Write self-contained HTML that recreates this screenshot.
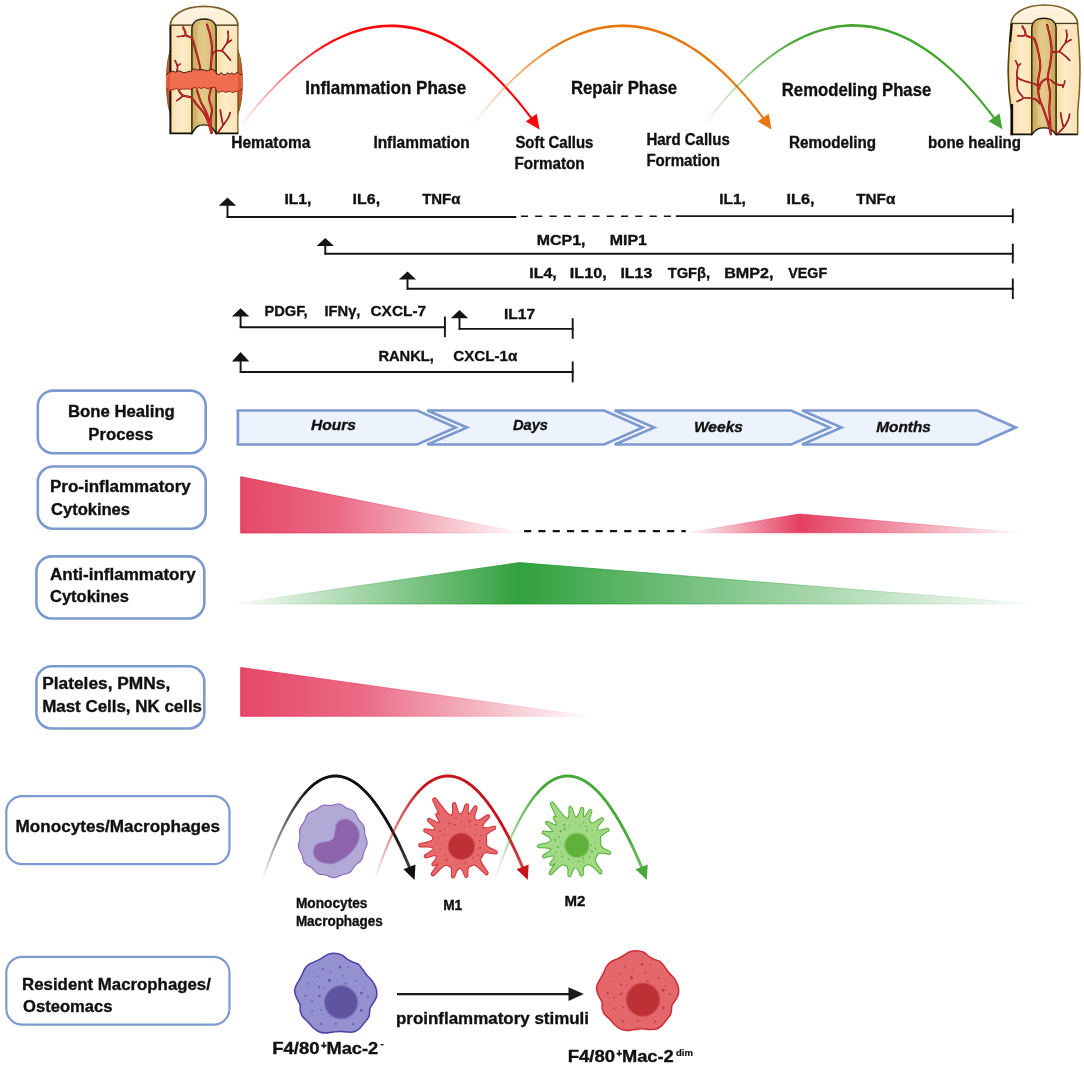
<!DOCTYPE html>
<html><head><meta charset="utf-8"><title>Bone healing</title>
<style>html,body{margin:0;padding:0;background:#fff}svg{display:block}text{font-family:'Liberation Sans',sans-serif;font-weight:bold}</style>
</head><body>
<svg width="1084" height="1066" viewBox="0 0 1084 1066">
<defs>
<linearGradient id="g1" gradientUnits="userSpaceOnUse" x1="240.7" x2="523.8" y1="0" y2="0"><stop offset="0" stop-color="#e12a50" stop-opacity="0.86"/><stop offset="0.34" stop-color="#e12a50" stop-opacity="0.70"/><stop offset="1" stop-color="#e12a50" stop-opacity="0"/></linearGradient>
<linearGradient id="g1s" gradientUnits="userSpaceOnUse" x1="240.7" x2="523.8" y1="0" y2="0"><stop offset="0" stop-color="#e12a50"/><stop offset="1" stop-color="#e12a50" stop-opacity="0"/></linearGradient>
<linearGradient id="g2" gradientUnits="userSpaceOnUse" x1="687" x2="1022" y1="0" y2="0"><stop offset="0" stop-color="#e12a50" stop-opacity="0"/><stop offset="0.336" stop-color="#e12a50" stop-opacity="0.9"/><stop offset="1" stop-color="#e12a50" stop-opacity="0"/></linearGradient>
<linearGradient id="g2s" gradientUnits="userSpaceOnUse" x1="687" x2="1022" y1="0" y2="0"><stop offset="0" stop-color="#e12a50" stop-opacity="0"/><stop offset="0.336" stop-color="#e12a50"/><stop offset="1" stop-color="#e12a50" stop-opacity="0"/></linearGradient>
<linearGradient id="g3" gradientUnits="userSpaceOnUse" x1="233" x2="1037" y1="0" y2="0"><stop offset="0" stop-color="#1f992e" stop-opacity="0"/><stop offset="0.356" stop-color="#1f992e" stop-opacity="0.92"/><stop offset="1" stop-color="#1f992e" stop-opacity="0"/></linearGradient>
<linearGradient id="g3s" gradientUnits="userSpaceOnUse" x1="233" x2="1037" y1="0" y2="0"><stop offset="0" stop-color="#1f992e" stop-opacity="0"/><stop offset="0.356" stop-color="#1f992e"/><stop offset="1" stop-color="#1f992e" stop-opacity="0"/></linearGradient>
<linearGradient id="g4" gradientUnits="userSpaceOnUse" x1="240.7" x2="592" y1="0" y2="0"><stop offset="0" stop-color="#e12a50" stop-opacity="0.86"/><stop offset="0.34" stop-color="#e12a50" stop-opacity="0.70"/><stop offset="1" stop-color="#e12a50" stop-opacity="0"/></linearGradient>
<linearGradient id="g4s" gradientUnits="userSpaceOnUse" x1="240.7" x2="592" y1="0" y2="0"><stop offset="0" stop-color="#e12a50"/><stop offset="1" stop-color="#e12a50" stop-opacity="0"/></linearGradient>
<linearGradient id="ag1" gradientUnits="userSpaceOnUse" x1="242.2" y1="124.4" x2="333.0" y2="41.0"><stop offset="0" stop-color="#fb0509" stop-opacity="0.06"/><stop offset="0.3" stop-color="#fb0509" stop-opacity="0.38"/><stop offset="1" stop-color="#fb0509"/></linearGradient>
<linearGradient id="ag2" gradientUnits="userSpaceOnUse" x1="473.2" y1="124.4" x2="564.5" y2="41.0"><stop offset="0" stop-color="#e6780f" stop-opacity="0.06"/><stop offset="0.3" stop-color="#e6780f" stop-opacity="0.38"/><stop offset="1" stop-color="#e6780f"/></linearGradient>
<linearGradient id="ag3" gradientUnits="userSpaceOnUse" x1="705.4" y1="123.2" x2="796.1" y2="40.4"><stop offset="0" stop-color="#45a533" stop-opacity="0.06"/><stop offset="0.3" stop-color="#45a533" stop-opacity="0.38"/><stop offset="1" stop-color="#45a533"/></linearGradient>
<linearGradient id="cortL" x1="0" x2="1" y1="0" y2="0"><stop offset="0" stop-color="#f9dca6"/><stop offset="0.45" stop-color="#fdecc9"/><stop offset="1" stop-color="#fbe2b2"/></linearGradient>
<linearGradient id="marrow" x1="0" x2="1" y1="0" y2="0"><stop offset="0" stop-color="#c9a757"/><stop offset="0.45" stop-color="#e0c581"/><stop offset="1" stop-color="#c7a556"/></linearGradient>
<linearGradient id="callus" x1="0" x2="0" y1="0" y2="1"><stop offset="0" stop-color="#b08a30"/><stop offset="0.3" stop-color="#de4f35"/><stop offset="0.7" stop-color="#de4f35"/><stop offset="1" stop-color="#9a5a22"/></linearGradient>
<linearGradient id="ag4" gradientUnits="userSpaceOnUse" x1="263.6" y1="876.0" x2="310.7" y2="787.1"><stop offset="0" stop-color="#111111" stop-opacity="0.06"/><stop offset="0.3" stop-color="#111111" stop-opacity="0.38"/><stop offset="1" stop-color="#111111"/></linearGradient>
<linearGradient id="ag5" gradientUnits="userSpaceOnUse" x1="375.9" y1="876.0" x2="423.1" y2="787.1"><stop offset="0" stop-color="#c4161c" stop-opacity="0.06"/><stop offset="0.3" stop-color="#c4161c" stop-opacity="0.38"/><stop offset="1" stop-color="#c4161c"/></linearGradient>
<linearGradient id="ag6" gradientUnits="userSpaceOnUse" x1="496.0" y1="876.0" x2="543.1" y2="787.1"><stop offset="0" stop-color="#49a83a" stop-opacity="0.06"/><stop offset="0.3" stop-color="#49a83a" stop-opacity="0.38"/><stop offset="1" stop-color="#49a83a"/></linearGradient>
</defs>
<rect width="1084" height="1066" fill="#fff"/>
<text x="305.29" y="93.9" font-size="18.5" textLength="161.01" lengthAdjust="spacingAndGlyphs" fill="#111" stroke="#111" stroke-width="0.35" >Inflammation Phase</text>
<text x="570.99" y="93.9" font-size="18.5" textLength="106.01" lengthAdjust="spacingAndGlyphs" fill="#111" stroke="#111" stroke-width="0.35" >Repair Phase</text>
<text x="781.79" y="96.3" font-size="18.5" textLength="149.42" lengthAdjust="spacingAndGlyphs" fill="#111" stroke="#111" stroke-width="0.35" >Remodeling Phase</text>
<text x="231.29" y="147.8" font-size="16" textLength="79.01" lengthAdjust="spacingAndGlyphs" fill="#111" stroke="#111" stroke-width="0.35" >Hematoma</text>
<text x="373.38" y="147.8" font-size="16" textLength="96.23" lengthAdjust="spacingAndGlyphs" fill="#111" stroke="#111" stroke-width="0.35" >Inflammation</text>
<text x="515.40" y="147.6" font-size="16" textLength="78.00" lengthAdjust="spacingAndGlyphs" fill="#111" stroke="#111" stroke-width="0.35" >Soft Callus</text>
<text x="514.38" y="169.2" font-size="16" textLength="70.24" lengthAdjust="spacingAndGlyphs" fill="#111" stroke="#111" stroke-width="0.35" >Formaton</text>
<text x="646.38" y="144.6" font-size="16" textLength="83.44" lengthAdjust="spacingAndGlyphs" fill="#111" stroke="#111" stroke-width="0.35" >Hard Callus</text>
<text x="646.38" y="166.2" font-size="16" textLength="73.62" lengthAdjust="spacingAndGlyphs" fill="#111" stroke="#111" stroke-width="0.35" >Formation</text>
<text x="788.98" y="147.8" font-size="16" textLength="87.05" lengthAdjust="spacingAndGlyphs" fill="#111" stroke="#111" stroke-width="0.35" >Remodeling</text>
<text x="927.98" y="147.8" font-size="16" textLength="93.04" lengthAdjust="spacingAndGlyphs" fill="#111" stroke="#111" stroke-width="0.35" >bone healing</text>
<path d="M218.8,205.7 L227.5,197.4 L236.2,205.7 Z" fill="#141414"/>
<path d="M227.5,205.2 V217.6" stroke="#141414" stroke-width="1.9" fill="none"/>
<path d="M226.6,217.0 H516.3" stroke="#141414" stroke-width="1.9" fill="none"/>
<path d="M520.9,216.2 H671.5" stroke="#141414" stroke-width="1.6" fill="none" stroke-dasharray="7.15 7.15"/>
<path d="M675.8,216.1 H1013.6" stroke="#141414" stroke-width="1.9" fill="none"/>
<path d="M1012.8,208.6 V223.2" stroke="#141414" stroke-width="1.9" fill="none"/>
<text x="284.44" y="204.2" font-size="15.5" textLength="26.88" lengthAdjust="spacingAndGlyphs" fill="#111" stroke="#111" stroke-width="0.35" >IL1,</text>
<text x="352.63" y="204.2" font-size="15.5" textLength="27.52" lengthAdjust="spacingAndGlyphs" fill="#111" stroke="#111" stroke-width="0.35" >IL6,</text>
<text x="422.20" y="204.2" font-size="15.5" textLength="38.20" lengthAdjust="spacingAndGlyphs" fill="#111" stroke="#111" stroke-width="0.35" >TNFα</text>
<text x="719.15" y="204.2" font-size="15.5" textLength="26.67" lengthAdjust="spacingAndGlyphs" fill="#111" stroke="#111" stroke-width="0.35" >IL1,</text>
<text x="786.64" y="204.2" font-size="15.5" textLength="27.88" lengthAdjust="spacingAndGlyphs" fill="#111" stroke="#111" stroke-width="0.35" >IL6,</text>
<text x="856.30" y="204.2" font-size="15.5" textLength="39.01" lengthAdjust="spacingAndGlyphs" fill="#111" stroke="#111" stroke-width="0.35" >TNFα</text>
<path d="M316.6,246.0 L325.3,238.0 L334.0,246.0 Z" fill="#141414"/>
<path d="M325.3,245.5 V254.6" stroke="#141414" stroke-width="1.9" fill="none"/>
<path d="M324.5,253.8 H1013.6" stroke="#141414" stroke-width="1.9" fill="none"/>
<path d="M1012.8,243.7 V263.4" stroke="#141414" stroke-width="1.9" fill="none"/>
<text x="536.76" y="244.8" font-size="15.5" textLength="48.67" lengthAdjust="spacingAndGlyphs" fill="#111" stroke="#111" stroke-width="0.35" >MCP1,</text>
<text x="609.77" y="244.8" font-size="15.5" textLength="37.23" lengthAdjust="spacingAndGlyphs" fill="#111" stroke="#111" stroke-width="0.35" >MIP1</text>
<path d="M398.8,279.6 L407.5,271.4 L416.2,279.6 Z" fill="#141414"/>
<path d="M407.5,279.1 V289.6" stroke="#141414" stroke-width="1.9" fill="none"/>
<path d="M406.7,288.8 H1013.6" stroke="#141414" stroke-width="1.9" fill="none"/>
<path d="M1012.8,278.6 V299.0" stroke="#141414" stroke-width="1.9" fill="none"/>
<text x="529.23" y="278.4" font-size="15.5" textLength="27.52" lengthAdjust="spacingAndGlyphs" fill="#111" stroke="#111" stroke-width="0.35" >IL4,</text>
<text x="569.84" y="278.4" font-size="15.5" textLength="36.91" lengthAdjust="spacingAndGlyphs" fill="#111" stroke="#111" stroke-width="0.35" >IL10,</text>
<text x="620.45" y="278.4" font-size="15.5" textLength="31.87" lengthAdjust="spacingAndGlyphs" fill="#111" stroke="#111" stroke-width="0.35" >IL13</text>
<text x="667.70" y="278.4" font-size="15.5" textLength="42.41" lengthAdjust="spacingAndGlyphs" fill="#111" stroke="#111" stroke-width="0.35" >TGFβ,</text>
<text x="724.15" y="278.4" font-size="15.5" textLength="49.30" lengthAdjust="spacingAndGlyphs" fill="#111" stroke="#111" stroke-width="0.35" >BMP2,</text>
<text x="788.30" y="278.4" font-size="15.5" textLength="38.80" lengthAdjust="spacingAndGlyphs" fill="#111" stroke="#111" stroke-width="0.35" >VEGF</text>
<path d="M231.9,316.6 L240.6,308.3 L249.3,316.6 Z" fill="#141414"/>
<path d="M240.6,316.1 V328.0" stroke="#141414" stroke-width="1.9" fill="none"/>
<path d="M239.8,327.2 H445.7" stroke="#141414" stroke-width="1.9" fill="none"/>
<path d="M444.9,316.6 V337.2" stroke="#141414" stroke-width="1.9" fill="none"/>
<text x="264.46" y="315.6" font-size="15.5" textLength="43.06" lengthAdjust="spacingAndGlyphs" fill="#111" stroke="#111" stroke-width="0.35" >PDGF,</text>
<text x="324.54" y="315.6" font-size="15.5" textLength="35.91" lengthAdjust="spacingAndGlyphs" fill="#111" stroke="#111" stroke-width="0.35" >IFNγ,</text>
<text x="370.50" y="315.6" font-size="15.5" textLength="55.61" lengthAdjust="spacingAndGlyphs" fill="#111" stroke="#111" stroke-width="0.35" >CXCL-7</text>
<path d="M450.8,318.2 L459.5,310.0 L468.2,318.2 Z" fill="#141414"/>
<path d="M459.5,317.7 V329.7" stroke="#141414" stroke-width="1.9" fill="none"/>
<path d="M458.7,328.9 H573.5" stroke="#141414" stroke-width="1.9" fill="none"/>
<path d="M572.7,318.2 V338.8" stroke="#141414" stroke-width="1.9" fill="none"/>
<text x="503.95" y="318.9" font-size="15.5" textLength="31.08" lengthAdjust="spacingAndGlyphs" fill="#111" stroke="#111" stroke-width="0.35" >IL17</text>
<path d="M231.9,361.4 L240.6,352.1 L249.3,361.4 Z" fill="#141414"/>
<path d="M240.6,360.9 V372.8" stroke="#141414" stroke-width="1.9" fill="none"/>
<path d="M239.8,372.0 H573.5" stroke="#141414" stroke-width="1.9" fill="none"/>
<path d="M572.7,361.4 V382.3" stroke="#141414" stroke-width="1.9" fill="none"/>
<text x="378.38" y="360.8" font-size="15.5" textLength="55.43" lengthAdjust="spacingAndGlyphs" fill="#111" stroke="#111" stroke-width="0.35" >RANKL,</text>
<text x="453.20" y="360.8" font-size="15.5" textLength="64.20" lengthAdjust="spacingAndGlyphs" fill="#111" stroke="#111" stroke-width="0.35" >CXCL-1α</text>
<rect x="37.8" y="390.6" width="167.9" height="62.7" rx="15.5" fill="#fff" stroke="#7c99d0" stroke-width="2.6"/>
<text x="67.99" y="417.2" font-size="16" textLength="106.82" lengthAdjust="spacingAndGlyphs" fill="#111" stroke="#111" stroke-width="0.35" >Bone Healing</text>
<text x="88.39" y="439.7" font-size="16" textLength="64.81" lengthAdjust="spacingAndGlyphs" fill="#111" stroke="#111" stroke-width="0.35" >Process</text>
<rect x="37.8" y="466.5" width="167.9" height="62.3" rx="15.5" fill="#fff" stroke="#7c99d0" stroke-width="2.6"/>
<text x="49.99" y="492.0" font-size="16" textLength="140.81" lengthAdjust="spacingAndGlyphs" fill="#111" stroke="#111" stroke-width="0.35" >Pro-inflammatory</text>
<text x="51.00" y="514.6" font-size="16" textLength="79.00" lengthAdjust="spacingAndGlyphs" fill="#111" stroke="#111" stroke-width="0.35" >Cytokines</text>
<rect x="36.4" y="556.4" width="167.9" height="62.1" rx="15.5" fill="#fff" stroke="#7c99d0" stroke-width="2.6"/>
<text x="50.00" y="580.1" font-size="16" textLength="145.60" lengthAdjust="spacingAndGlyphs" fill="#111" stroke="#111" stroke-width="0.35" >Anti-inflammatory</text>
<text x="50.00" y="602.4" font-size="16" textLength="78.80" lengthAdjust="spacingAndGlyphs" fill="#111" stroke="#111" stroke-width="0.35" >Cytokines</text>
<rect x="36.4" y="666.3" width="167.9" height="62.2" rx="15.5" fill="#fff" stroke="#7c99d0" stroke-width="2.6"/>
<text x="42.18" y="689.2" font-size="16" textLength="128.03" lengthAdjust="spacingAndGlyphs" fill="#111" stroke="#111" stroke-width="0.35" >Plateles, PMNs,</text>
<text x="42.19" y="711.8" font-size="16" textLength="159.82" lengthAdjust="spacingAndGlyphs" fill="#111" stroke="#111" stroke-width="0.35" >Mast Cells, NK cells</text>
<rect x="6.3" y="796.1" width="223.2" height="68.1" rx="16" fill="#fff" stroke="#7c99d0" stroke-width="2.2"/>
<text x="15.59" y="832.4" font-size="17" textLength="204.41" lengthAdjust="spacingAndGlyphs" fill="#111" stroke="#111" stroke-width="0.35" >Monocytes/Macrophages</text>
<rect x="6.3" y="956.8" width="223.2" height="67.9" rx="16" fill="#fff" stroke="#7c99d0" stroke-width="2.2"/>
<text x="22.10" y="990.3" font-size="16.5" textLength="188.80" lengthAdjust="spacingAndGlyphs" fill="#111" stroke="#111" stroke-width="0.35" >Resident Macrophages/</text>
<text x="23.10" y="1012.2" font-size="16.5" textLength="89.40" lengthAdjust="spacingAndGlyphs" fill="#111" stroke="#111" stroke-width="0.35" >Osteomacs</text>
<path d="M237.9,410.5 H417.2 L455.8,427.5 L417.2,444.5 H237.9 Z" fill="#edf3fc" stroke="#7c99d0" stroke-width="2.7" stroke-linejoin="miter"/>
<path d="M427.2,410.5 H604.2 L642.8,427.5 L604.2,444.5 H427.2 L467.0,427.5 Z" fill="#edf3fc" stroke="#7c99d0" stroke-width="2.7" stroke-linejoin="miter"/>
<path d="M614.6,410.5 H791.2 L829.8,427.5 L791.2,444.5 H614.6 L654.2,427.5 Z" fill="#edf3fc" stroke="#7c99d0" stroke-width="2.7" stroke-linejoin="miter"/>
<path d="M802.0,410.5 H977.4 L1015.8,427.5 L977.4,444.5 H802.0 L841.5,427.5 Z" fill="#edf3fc" stroke="#7c99d0" stroke-width="2.7" stroke-linejoin="miter"/>
<text x="311.00" y="429.7" font-size="15.5" textLength="45.01" lengthAdjust="spacingAndGlyphs" fill="#111" stroke="#111" stroke-width="0.35" font-style="italic">Hours</text>
<text x="513.00" y="429.9" font-size="15.5" textLength="35.00" lengthAdjust="spacingAndGlyphs" fill="#111" stroke="#111" stroke-width="0.35" font-style="italic">Days</text>
<text x="693.98" y="431.5" font-size="15.5" textLength="49.02" lengthAdjust="spacingAndGlyphs" fill="#111" stroke="#111" stroke-width="0.35" font-style="italic">Weeks</text>
<text x="876.30" y="431.8" font-size="15.5" textLength="54.60" lengthAdjust="spacingAndGlyphs" fill="#111" stroke="#111" stroke-width="0.35" font-style="italic">Months</text>
<path d="M240.7,476.7 L523.8,533 H240.7 Z" fill="url(#g1)" stroke="url(#g1s)" stroke-width="0.8"/>
<path d="M524.1,531.1 H685.8" stroke="#141414" stroke-width="2.3" fill="none" stroke-dasharray="7.15 7.15"/>
<path d="M687,532.8 L799.5,514 L1022,532.8 Z" fill="url(#g2)" stroke="url(#g2s)" stroke-width="0.7"/>
<path d="M233,604 L519.2,562.6 L1037,604 Z" fill="url(#g3)" stroke="url(#g3s)" stroke-width="0.8"/>
<path d="M240.7,667.5 L592,716.3 H240.7 Z" fill="url(#g4)" stroke="url(#g4s)" stroke-width="0.8"/>
<path d="M242.72,124.79 L247.70,118.41 L252.67,112.25 L257.64,106.30 L262.60,100.57 L267.56,95.05 L272.52,89.75 L277.46,84.67 L282.41,79.80 L287.34,75.15 L292.28,70.71 L297.20,66.49 L302.12,62.49 L307.04,58.70 L311.94,55.13 L316.84,51.77 L321.74,48.63 L326.63,45.70 L331.51,42.99 L336.38,40.50 L341.25,38.22 L346.10,36.15 L350.95,34.30 L355.80,32.67 L360.63,31.24 L365.46,30.04 L370.28,29.04 L375.10,28.26 L379.90,27.69 L384.70,27.34 L389.50,27.19 L394.28,27.24 L399.07,27.49 L403.85,27.96 L408.63,28.63 L413.40,29.52 L418.18,30.61 L422.95,31.92 L427.73,33.44 L432.50,35.17 L437.27,37.12 L442.04,39.29 L446.81,41.67 L451.58,44.26 L456.35,47.07 L461.12,50.09 L465.88,53.33 L470.65,56.78 L475.41,60.45 L480.17,64.33 L484.93,68.43 L489.69,72.75 L494.44,77.28 L499.20,82.02 L503.95,86.99 L508.69,92.17 L513.44,97.56 L518.18,103.17 L522.92,109.00 L527.66,115.04 L532.39,121.29 L534.04,120.07 L529.31,113.77 L524.57,107.69 L519.82,101.82 L515.07,96.16 L510.32,90.71 L505.56,85.48 L500.79,80.47 L496.02,75.67 L491.25,71.08 L486.46,66.70 L481.68,62.55 L476.88,58.60 L472.08,54.87 L467.27,51.35 L462.46,48.05 L457.64,44.97 L452.82,42.09 L447.98,39.44 L443.14,36.99 L438.30,34.77 L433.44,32.76 L428.58,30.96 L423.71,29.38 L418.84,28.02 L413.96,26.87 L409.07,25.95 L404.18,25.23 L399.27,24.75 L394.37,24.49 L389.46,24.44 L384.55,24.64 L379.64,25.05 L374.72,25.68 L369.81,26.53 L364.89,27.59 L359.98,28.87 L355.06,30.37 L350.14,32.08 L345.23,34.01 L340.31,36.15 L335.39,38.51 L330.48,41.08 L325.56,43.87 L320.64,46.87 L315.72,50.09 L310.80,53.52 L305.87,57.16 L300.95,61.02 L296.02,65.09 L291.09,69.38 L286.16,73.88 L281.23,78.59 L276.30,83.52 L271.36,88.66 L266.42,94.02 L261.48,99.59 L256.54,105.37 L251.59,111.37 L246.64,117.58 L241.68,124.01 Z" fill="url(#ag1)"/>
<path d="M539.60,129.50 L525.71,121.57 L536.73,113.77 Z" fill="#fb0509"/>
<path d="M473.72,124.80 L478.73,118.42 L483.73,112.25 L488.73,106.30 L493.73,100.57 L498.72,95.06 L503.70,89.76 L508.68,84.67 L513.65,79.80 L518.61,75.15 L523.57,70.71 L528.53,66.49 L533.47,62.49 L538.41,58.70 L543.35,55.13 L548.27,51.77 L553.19,48.63 L558.10,45.70 L563.01,42.99 L567.90,40.50 L572.79,38.22 L577.67,36.15 L582.54,34.30 L587.41,32.67 L592.26,31.24 L597.11,30.04 L601.95,29.04 L606.78,28.26 L611.61,27.69 L616.42,27.34 L621.23,27.19 L626.04,27.24 L630.84,27.49 L635.63,27.96 L640.43,28.63 L645.22,29.52 L650.01,30.61 L654.80,31.92 L659.58,33.44 L664.37,35.18 L669.15,37.12 L673.93,39.29 L678.72,41.67 L683.49,44.26 L688.27,47.07 L693.05,50.09 L697.82,53.33 L702.59,56.78 L707.36,60.45 L712.13,64.33 L716.90,68.43 L721.66,72.75 L726.42,77.28 L731.18,82.03 L735.93,86.99 L740.68,92.17 L745.43,97.56 L750.18,103.17 L754.92,109.00 L759.66,115.04 L764.39,121.29 L766.04,120.07 L761.30,113.77 L756.56,107.69 L751.82,101.81 L747.06,96.16 L742.31,90.71 L737.54,85.48 L732.77,80.47 L728.00,75.67 L723.22,71.08 L718.43,66.70 L713.63,62.54 L708.83,58.60 L704.03,54.87 L699.21,51.35 L694.39,48.05 L689.56,44.96 L684.72,42.09 L679.88,39.44 L675.03,36.99 L670.17,34.77 L665.31,32.76 L660.43,30.96 L655.55,29.38 L650.67,28.02 L645.77,26.87 L640.87,25.95 L635.96,25.23 L631.05,24.75 L626.12,24.49 L621.20,24.44 L616.27,24.64 L611.34,25.05 L606.41,25.68 L601.48,26.53 L596.54,27.59 L591.61,28.87 L586.67,30.37 L581.73,32.08 L576.80,34.01 L571.86,36.15 L566.92,38.51 L561.98,41.08 L557.04,43.87 L552.09,46.87 L547.15,50.09 L542.20,53.52 L537.25,57.16 L532.30,61.02 L527.35,65.09 L522.40,69.38 L517.44,73.88 L512.48,78.59 L507.52,83.52 L502.55,88.66 L497.58,94.02 L492.61,99.58 L487.63,105.37 L482.65,111.37 L477.67,117.58 L472.68,124.00 Z" fill="url(#ag2)"/>
<path d="M771.60,129.50 L757.71,121.57 L768.73,113.77 Z" fill="#e6780f"/>
<path d="M705.92,123.60 L710.88,117.26 L715.85,111.14 L720.80,105.24 L725.76,99.55 L730.70,94.07 L735.65,88.81 L740.58,83.76 L745.51,78.93 L750.44,74.31 L755.36,69.91 L760.27,65.73 L765.18,61.75 L770.08,58.00 L774.98,54.45 L779.87,51.12 L784.75,48.01 L789.63,45.11 L794.50,42.43 L799.36,39.95 L804.21,37.70 L809.06,35.65 L813.90,33.82 L818.73,32.21 L823.55,30.80 L828.37,29.61 L833.18,28.63 L837.98,27.86 L842.78,27.31 L847.57,26.97 L852.35,26.83 L857.12,26.89 L861.90,27.15 L866.67,27.63 L871.43,28.31 L876.20,29.19 L880.97,30.29 L885.73,31.60 L890.49,33.12 L895.25,34.86 L900.01,36.81 L904.77,38.97 L909.53,41.34 L914.29,43.93 L919.05,46.73 L923.80,49.75 L928.56,52.98 L933.31,56.42 L938.06,60.08 L942.81,63.95 L947.56,68.04 L952.31,72.34 L957.05,76.86 L961.79,81.59 L966.53,86.53 L971.27,91.69 L976.00,97.07 L980.73,102.66 L985.46,108.46 L990.19,114.48 L994.91,120.71 L996.56,119.49 L991.84,113.21 L987.11,107.15 L982.37,101.30 L977.64,95.66 L972.89,90.24 L968.14,85.03 L963.39,80.03 L958.63,75.25 L953.86,70.67 L949.09,66.31 L944.32,62.17 L939.53,58.23 L934.74,54.51 L929.95,51.01 L925.15,47.71 L920.34,44.63 L915.52,41.77 L910.70,39.11 L905.87,36.68 L901.04,34.45 L896.20,32.44 L891.35,30.65 L886.49,29.07 L881.63,27.70 L876.76,26.55 L871.88,25.62 L867.00,24.90 L862.11,24.41 L857.22,24.14 L852.32,24.08 L847.42,24.27 L842.52,24.67 L837.61,25.29 L832.71,26.12 L827.81,27.17 L822.90,28.43 L818.00,29.91 L813.09,31.60 L808.19,33.51 L803.28,35.63 L798.38,37.96 L793.47,40.51 L788.56,43.27 L783.66,46.25 L778.75,49.44 L773.84,52.84 L768.93,56.45 L764.01,60.28 L759.10,64.32 L754.18,68.57 L749.26,73.04 L744.34,77.72 L739.42,82.61 L734.49,87.71 L729.57,93.03 L724.63,98.56 L719.70,104.30 L714.77,110.26 L709.83,116.42 L704.88,122.80 Z" fill="url(#ag3)"/>
<path d="M1002.40,129.30 L988.51,121.36 L999.53,113.56 Z" fill="#45a533"/>
<path d="M366.86,840.50 C366.96,840.93 367.05,841.37 367.10,841.80 C367.14,842.24 367.17,842.68 367.15,843.11 C367.13,843.54 367.08,843.98 367.00,844.41 C366.92,844.83 366.80,845.26 366.66,845.67 C366.52,846.09 366.34,846.49 366.16,846.90 C365.99,847.30 365.78,847.69 365.58,848.08 C365.39,848.47 365.18,848.85 364.98,849.23 C364.79,849.61 364.60,849.98 364.43,850.36 C364.25,850.75 364.09,851.13 363.95,851.51 C363.81,851.90 363.69,852.29 363.58,852.69 C363.47,853.09 363.38,853.50 363.29,853.91 C363.20,854.32 363.13,854.74 363.04,855.16 C362.96,855.57 362.88,856.00 362.79,856.42 C362.69,856.84 362.59,857.26 362.46,857.67 C362.33,858.07 362.18,858.48 362.00,858.86 C361.83,859.24 361.63,859.61 361.40,859.97 C361.17,860.32 360.92,860.65 360.64,860.96 C360.37,861.28 360.07,861.57 359.75,861.85 C359.44,862.13 359.11,862.39 358.78,862.64 C358.45,862.89 358.10,863.13 357.77,863.37 C357.44,863.61 357.10,863.84 356.79,864.09 C356.47,864.33 356.16,864.58 355.86,864.84 C355.57,865.10 355.29,865.38 355.03,865.67 C354.76,865.96 354.51,866.27 354.27,866.59 C354.03,866.92 353.81,867.26 353.58,867.61 C353.35,867.96 353.13,868.33 352.90,868.69 C352.67,869.05 352.45,869.42 352.20,869.78 C351.96,870.13 351.71,870.49 351.44,870.82 C351.17,871.15 350.88,871.46 350.58,871.75 C350.27,872.03 349.95,872.29 349.61,872.52 C349.27,872.75 348.91,872.95 348.55,873.12 C348.18,873.29 347.79,873.43 347.41,873.55 C347.02,873.67 346.62,873.76 346.22,873.85 C345.83,873.94 345.42,874.00 345.03,874.08 C344.63,874.15 344.24,874.21 343.85,874.29 C343.46,874.37 343.08,874.46 342.70,874.56 C342.33,874.67 341.96,874.79 341.59,874.92 C341.22,875.06 340.86,875.22 340.50,875.38 C340.13,875.55 339.77,875.74 339.41,875.92 C339.05,876.11 338.68,876.31 338.31,876.50 C337.94,876.68 337.56,876.87 337.18,877.03 C336.80,877.19 336.41,877.35 336.02,877.46 C335.62,877.57 335.22,877.66 334.82,877.71 C334.42,877.76 334.02,877.78 333.61,877.76 C333.21,877.74 332.80,877.68 332.40,877.59 C332.00,877.51 331.60,877.38 331.21,877.24 C330.81,877.10 330.42,876.93 330.04,876.76 C329.66,876.59 329.28,876.40 328.90,876.22 C328.53,876.04 328.16,875.86 327.79,875.70 C327.43,875.54 327.06,875.39 326.69,875.27 C326.32,875.14 325.96,875.03 325.58,874.95 C325.21,874.86 324.83,874.80 324.45,874.75 C324.07,874.70 323.68,874.67 323.29,874.64 C322.90,874.60 322.50,874.59 322.10,874.56 C321.70,874.53 321.29,874.50 320.90,874.45 C320.50,874.40 320.10,874.33 319.71,874.24 C319.32,874.15 318.93,874.03 318.56,873.88 C318.19,873.73 317.83,873.55 317.49,873.35 C317.14,873.14 316.81,872.90 316.49,872.65 C316.17,872.39 315.86,872.11 315.57,871.81 C315.27,871.52 314.99,871.21 314.71,870.90 C314.44,870.60 314.17,870.28 313.89,869.97 C313.62,869.67 313.35,869.37 313.07,869.09 C312.78,868.80 312.50,868.53 312.20,868.28 C311.89,868.03 311.58,867.79 311.26,867.57 C310.93,867.34 310.59,867.14 310.24,866.94 C309.89,866.73 309.53,866.55 309.16,866.35 C308.80,866.15 308.42,865.97 308.05,865.76 C307.68,865.55 307.31,865.34 306.96,865.11 C306.60,864.87 306.26,864.63 305.93,864.35 C305.61,864.08 305.31,863.79 305.03,863.47 C304.76,863.15 304.51,862.80 304.29,862.44 C304.06,862.08 303.87,861.69 303.70,861.30 C303.53,860.90 303.39,860.48 303.25,860.06 C303.12,859.64 303.02,859.21 302.91,858.79 C302.81,858.36 302.72,857.93 302.62,857.51 C302.52,857.09 302.43,856.67 302.32,856.26 C302.21,855.85 302.09,855.45 301.96,855.06 C301.82,854.67 301.67,854.29 301.51,853.91 C301.34,853.53 301.16,853.16 300.97,852.79 C300.78,852.42 300.58,852.05 300.38,851.68 C300.18,851.30 299.97,850.93 299.78,850.55 C299.58,850.17 299.39,849.78 299.23,849.38 C299.07,848.99 298.92,848.58 298.80,848.17 C298.68,847.76 298.59,847.34 298.54,846.91 C298.48,846.49 298.45,846.06 298.46,845.62 C298.46,845.19 298.50,844.75 298.56,844.32 C298.62,843.89 298.71,843.45 298.80,843.02 C298.90,842.59 299.02,842.17 299.13,841.75 C299.23,841.33 299.36,840.91 299.46,840.50 C299.56,840.09 299.66,839.68 299.74,839.27 C299.81,838.87 299.88,838.47 299.91,838.06 C299.95,837.65 299.97,837.25 299.97,836.84 C299.97,836.43 299.94,836.01 299.91,835.60 C299.88,835.18 299.83,834.75 299.79,834.32 C299.75,833.89 299.69,833.46 299.66,833.02 C299.62,832.59 299.59,832.15 299.59,831.71 C299.58,831.28 299.59,830.84 299.64,830.41 C299.68,829.98 299.75,829.55 299.85,829.14 C299.95,828.73 300.09,828.32 300.24,827.93 C300.40,827.54 300.59,827.15 300.80,826.78 C301.00,826.41 301.24,826.06 301.47,825.71 C301.71,825.36 301.96,825.02 302.21,824.68 C302.45,824.34 302.71,824.01 302.94,823.68 C303.18,823.34 303.42,823.01 303.63,822.66 C303.85,822.31 304.05,821.96 304.24,821.60 C304.43,821.24 304.60,820.86 304.77,820.48 C304.93,820.09 305.08,819.70 305.23,819.29 C305.38,818.89 305.52,818.48 305.67,818.07 C305.82,817.65 305.97,817.24 306.14,816.83 C306.31,816.43 306.49,816.02 306.70,815.64 C306.91,815.26 307.13,814.89 307.38,814.55 C307.63,814.21 307.91,813.88 308.21,813.59 C308.51,813.30 308.83,813.03 309.17,812.79 C309.51,812.55 309.88,812.34 310.25,812.15 C310.63,811.96 311.02,811.79 311.41,811.64 C311.80,811.48 312.20,811.35 312.59,811.21 C312.98,811.07 313.37,810.94 313.75,810.79 C314.13,810.65 314.50,810.51 314.86,810.35 C315.22,810.18 315.57,810.01 315.91,809.82 C316.25,809.63 316.58,809.42 316.90,809.19 C317.23,808.97 317.54,808.72 317.86,808.48 C318.18,808.23 318.49,807.96 318.81,807.71 C319.13,807.45 319.45,807.19 319.78,806.95 C320.11,806.71 320.45,806.47 320.80,806.26 C321.15,806.05 321.51,805.86 321.88,805.71 C322.24,805.55 322.62,805.42 323.01,805.33 C323.40,805.23 323.79,805.17 324.19,805.13 C324.59,805.10 324.99,805.10 325.40,805.11 C325.80,805.12 326.20,805.16 326.61,805.20 C327.01,805.24 327.41,805.29 327.80,805.34 C328.19,805.38 328.58,805.43 328.97,805.46 C329.36,805.48 329.74,805.50 330.12,805.49 C330.50,805.48 330.88,805.45 331.26,805.40 C331.64,805.35 332.02,805.28 332.40,805.19 C332.78,805.11 333.17,804.99 333.56,804.88 C333.95,804.77 334.34,804.64 334.74,804.53 C335.14,804.42 335.54,804.30 335.95,804.22 C336.36,804.13 336.77,804.05 337.17,804.01 C337.58,803.97 337.99,803.95 338.40,803.97 C338.80,803.99 339.20,804.04 339.60,804.13 C339.99,804.22 340.38,804.35 340.76,804.50 C341.13,804.65 341.50,804.84 341.87,805.04 C342.23,805.24 342.58,805.47 342.93,805.70 C343.27,805.93 343.61,806.18 343.95,806.42 C344.29,806.65 344.62,806.89 344.96,807.11 C345.30,807.33 345.63,807.55 345.98,807.74 C346.32,807.93 346.67,808.11 347.03,808.28 C347.39,808.44 347.76,808.58 348.13,808.72 C348.50,808.86 348.89,808.98 349.27,809.11 C349.65,809.24 350.05,809.36 350.43,809.50 C350.82,809.64 351.21,809.78 351.58,809.95 C351.96,810.12 352.33,810.30 352.68,810.51 C353.03,810.73 353.37,810.96 353.69,811.23 C354.01,811.49 354.31,811.79 354.58,812.11 C354.86,812.42 355.11,812.77 355.34,813.13 C355.57,813.49 355.78,813.88 355.98,814.27 C356.18,814.66 356.36,815.07 356.53,815.47 C356.71,815.87 356.87,816.27 357.04,816.66 C357.22,817.06 357.38,817.44 357.57,817.82 C357.75,818.19 357.94,818.55 358.15,818.89 C358.35,819.24 358.57,819.57 358.81,819.89 C359.05,820.21 359.31,820.51 359.58,820.81 C359.84,821.11 360.13,821.40 360.41,821.70 C360.70,821.99 361.00,822.28 361.28,822.59 C361.57,822.89 361.86,823.20 362.13,823.52 C362.40,823.84 362.66,824.17 362.90,824.52 C363.13,824.87 363.35,825.23 363.53,825.61 C363.71,825.99 363.87,826.38 364.00,826.79 C364.13,827.19 364.23,827.61 364.31,828.02 C364.39,828.44 364.44,828.88 364.48,829.30 C364.52,829.73 364.54,830.16 364.57,830.59 C364.59,831.02 364.60,831.45 364.63,831.87 C364.65,832.29 364.68,832.71 364.73,833.12 C364.77,833.53 364.83,833.94 364.91,834.34 C364.99,834.75 365.09,835.15 365.20,835.55 C365.32,835.95 365.45,836.35 365.59,836.75 C365.73,837.16 365.89,837.56 366.04,837.97 C366.19,838.38 366.35,838.80 366.48,839.22 C366.62,839.64 366.76,840.07 366.86,840.50 Z" fill="#b1a9d6" stroke="#8f63b9" stroke-width="1.1"/>
<path d="M340.79,819.96 C342.67,819.18 345.29,818.61 347.54,819.18 C349.80,819.74 352.37,821.24 354.30,823.34 C356.23,825.44 358.48,828.69 359.14,831.78 C359.80,834.88 359.33,838.73 358.24,841.92 C357.15,845.11 355.05,848.11 352.61,850.92 C350.17,853.74 346.79,856.70 343.60,858.80 C340.42,860.90 336.85,862.82 333.47,863.53 C330.10,864.24 326.29,863.87 323.34,863.08 C320.40,862.29 317.49,860.73 315.80,858.80 C314.11,856.87 313.32,853.70 313.21,851.48 C313.10,849.27 313.90,847.00 315.12,845.52 C316.34,844.04 318.31,843.29 320.53,842.59 C322.74,841.90 326.25,842.18 328.41,841.35 C330.56,840.53 332.38,839.42 333.47,837.64 C334.56,835.86 334.47,832.95 334.94,830.66 C335.41,828.37 335.31,825.69 336.29,823.90 C337.26,822.12 338.91,820.75 340.79,819.96 Z" fill="#8d64ab" stroke="#a48cc6" stroke-width="1.1"/>
<g fill="#d3303b" stroke="#d3303b" stroke-width="2.0" stroke-linejoin="round"><circle cx="459.7" cy="841.4" r="26.6"/><path d="M440.9,823.9 Q442.2,819.6 439.3,813.6 L433.3,800.7 C432.9,800.0 433.1,799.1 433.8,798.6 C434.5,798.2 435.4,798.4 435.9,799.1 L444.6,810.4 Q448.5,815.7 452.9,816.7 Z M450.6,817.4 Q453.0,814.9 453.1,811.5 L453.0,804.5 C452.9,803.9 453.4,803.2 454.1,803.1 C454.8,803.0 455.4,803.5 455.5,804.2 L457.4,810.8 Q458.5,814.1 461.5,815.8 Z M459.1,815.8 Q462.2,814.2 463.4,811.2 L465.5,805.2 C465.7,804.6 466.3,804.1 467.0,804.3 C467.7,804.4 468.1,805.0 468.0,805.7 L467.7,812.1 Q467.7,815.3 469.9,817.9 Z M465.3,816.4 Q468.7,815.6 470.6,812.8 L474.4,807.1 C474.7,806.5 475.4,806.2 476.0,806.5 C476.6,806.8 476.9,807.5 476.6,808.2 L474.6,814.7 Q473.8,818.0 475.3,821.1 Z M474.8,820.7 Q478.2,821.3 481.2,819.4 L487.2,815.4 C487.7,814.9 488.5,815.0 489.0,815.5 C489.4,816.0 489.4,816.8 488.9,817.3 L484.2,822.7 Q481.9,825.5 482.1,828.9 Z M480.9,827.1 Q483.9,828.8 487.2,828.1 L493.5,826.6 C494.2,826.4 494.9,826.7 495.2,827.3 C495.4,828.0 495.1,828.7 494.5,829.0 L488.8,832.2 Q486.0,834.0 485.0,837.3 Z M485.2,843.4 Q486.6,846.6 489.7,848.2 L496.0,851.1 C496.7,851.3 497.0,852.0 496.8,852.7 C496.6,853.3 496.0,853.7 495.3,853.5 L488.4,852.4 Q484.9,852.0 482.1,853.9 Z M480.1,857.0 Q479.5,860.5 482.0,864.4 L487.4,872.3 C487.9,872.8 487.8,873.6 487.3,874.0 C486.8,874.5 486.0,874.4 485.5,873.9 L478.6,867.2 Q475.2,864.1 471.6,864.1 Z M469.8,865.0 Q467.5,867.5 467.4,870.2 L467.4,875.4 C467.6,876.1 467.1,876.7 466.5,876.9 C465.8,877.0 465.1,876.5 465.0,875.9 L463.1,871.0 Q462.0,868.5 459.0,867.0 Z M460.5,867.0 Q457.5,868.6 456.3,871.2 L454.4,876.4 C454.3,877.1 453.6,877.6 452.9,877.4 C452.3,877.3 451.8,876.6 451.9,876.0 L452.0,870.4 Q452.0,867.5 449.7,865.0 Z M448.1,864.3 Q444.5,864.4 441.0,867.7 L433.9,875.0 C433.4,875.5 432.7,875.6 432.1,875.2 C431.6,874.7 431.5,873.9 431.9,873.4 L437.6,865.0 Q440.2,860.9 439.6,857.3 Z M444.5,862.0 Q441.2,861.3 438.8,862.6 L434.4,865.2 C433.9,865.6 433.1,865.6 432.7,865.0 C432.2,864.5 432.3,863.7 432.8,863.3 L435.9,859.3 Q437.5,857.1 437.2,853.7 Z M439.0,856.4 Q435.9,854.8 432.7,855.5 L426.4,857.2 C425.8,857.5 425.1,857.2 424.8,856.6 C424.5,856.0 424.8,855.2 425.4,855.0 L431.0,851.5 Q433.7,849.7 434.6,846.3 Z M435.3,849.3 Q432.8,846.8 428.8,846.6 L420.5,846.5 C419.9,846.5 419.2,846.0 419.2,845.3 C419.1,844.7 419.6,844.0 420.3,844.0 L428.4,842.2 Q432.3,841.3 434.3,838.3 Z M434.2,839.1 Q433.0,835.9 430.3,834.4 L425.1,831.7 C424.4,831.5 424.0,830.8 424.2,830.1 C424.4,829.5 425.2,829.1 425.8,829.3 L431.7,830.2 Q434.7,830.5 437.5,828.6 Z M436.0,831.6 Q435.8,828.2 433.4,825.8 L428.5,821.2 C427.9,820.8 427.8,820.0 428.2,819.4 C428.6,818.9 429.4,818.7 429.9,819.1 L435.9,822.2 Q439.0,823.6 442.3,822.6 Z M439.4,825.7 Q440.2,822.4 439.0,820.0 L436.5,815.6 C436.0,815.1 436.1,814.3 436.6,813.8 C437.2,813.4 437.9,813.4 438.4,814.0 L442.3,817.2 Q444.5,818.8 447.9,818.7 Z"/></g>
<g fill="#e6696c"><circle cx="459.7" cy="841.4" r="26.6"/><path d="M440.9,823.9 Q442.2,819.6 439.3,813.6 L433.3,800.7 C432.9,800.0 433.1,799.1 433.8,798.6 C434.5,798.2 435.4,798.4 435.9,799.1 L444.6,810.4 Q448.5,815.7 452.9,816.7 Z M450.6,817.4 Q453.0,814.9 453.1,811.5 L453.0,804.5 C452.9,803.9 453.4,803.2 454.1,803.1 C454.8,803.0 455.4,803.5 455.5,804.2 L457.4,810.8 Q458.5,814.1 461.5,815.8 Z M459.1,815.8 Q462.2,814.2 463.4,811.2 L465.5,805.2 C465.7,804.6 466.3,804.1 467.0,804.3 C467.7,804.4 468.1,805.0 468.0,805.7 L467.7,812.1 Q467.7,815.3 469.9,817.9 Z M465.3,816.4 Q468.7,815.6 470.6,812.8 L474.4,807.1 C474.7,806.5 475.4,806.2 476.0,806.5 C476.6,806.8 476.9,807.5 476.6,808.2 L474.6,814.7 Q473.8,818.0 475.3,821.1 Z M474.8,820.7 Q478.2,821.3 481.2,819.4 L487.2,815.4 C487.7,814.9 488.5,815.0 489.0,815.5 C489.4,816.0 489.4,816.8 488.9,817.3 L484.2,822.7 Q481.9,825.5 482.1,828.9 Z M480.9,827.1 Q483.9,828.8 487.2,828.1 L493.5,826.6 C494.2,826.4 494.9,826.7 495.2,827.3 C495.4,828.0 495.1,828.7 494.5,829.0 L488.8,832.2 Q486.0,834.0 485.0,837.3 Z M485.2,843.4 Q486.6,846.6 489.7,848.2 L496.0,851.1 C496.7,851.3 497.0,852.0 496.8,852.7 C496.6,853.3 496.0,853.7 495.3,853.5 L488.4,852.4 Q484.9,852.0 482.1,853.9 Z M480.1,857.0 Q479.5,860.5 482.0,864.4 L487.4,872.3 C487.9,872.8 487.8,873.6 487.3,874.0 C486.8,874.5 486.0,874.4 485.5,873.9 L478.6,867.2 Q475.2,864.1 471.6,864.1 Z M469.8,865.0 Q467.5,867.5 467.4,870.2 L467.4,875.4 C467.6,876.1 467.1,876.7 466.5,876.9 C465.8,877.0 465.1,876.5 465.0,875.9 L463.1,871.0 Q462.0,868.5 459.0,867.0 Z M460.5,867.0 Q457.5,868.6 456.3,871.2 L454.4,876.4 C454.3,877.1 453.6,877.6 452.9,877.4 C452.3,877.3 451.8,876.6 451.9,876.0 L452.0,870.4 Q452.0,867.5 449.7,865.0 Z M448.1,864.3 Q444.5,864.4 441.0,867.7 L433.9,875.0 C433.4,875.5 432.7,875.6 432.1,875.2 C431.6,874.7 431.5,873.9 431.9,873.4 L437.6,865.0 Q440.2,860.9 439.6,857.3 Z M444.5,862.0 Q441.2,861.3 438.8,862.6 L434.4,865.2 C433.9,865.6 433.1,865.6 432.7,865.0 C432.2,864.5 432.3,863.7 432.8,863.3 L435.9,859.3 Q437.5,857.1 437.2,853.7 Z M439.0,856.4 Q435.9,854.8 432.7,855.5 L426.4,857.2 C425.8,857.5 425.1,857.2 424.8,856.6 C424.5,856.0 424.8,855.2 425.4,855.0 L431.0,851.5 Q433.7,849.7 434.6,846.3 Z M435.3,849.3 Q432.8,846.8 428.8,846.6 L420.5,846.5 C419.9,846.5 419.2,846.0 419.2,845.3 C419.1,844.7 419.6,844.0 420.3,844.0 L428.4,842.2 Q432.3,841.3 434.3,838.3 Z M434.2,839.1 Q433.0,835.9 430.3,834.4 L425.1,831.7 C424.4,831.5 424.0,830.8 424.2,830.1 C424.4,829.5 425.2,829.1 425.8,829.3 L431.7,830.2 Q434.7,830.5 437.5,828.6 Z M436.0,831.6 Q435.8,828.2 433.4,825.8 L428.5,821.2 C427.9,820.8 427.8,820.0 428.2,819.4 C428.6,818.9 429.4,818.7 429.9,819.1 L435.9,822.2 Q439.0,823.6 442.3,822.6 Z M439.4,825.7 Q440.2,822.4 439.0,820.0 L436.5,815.6 C436.0,815.1 436.1,814.3 436.6,813.8 C437.2,813.4 437.9,813.4 438.4,814.0 L442.3,817.2 Q444.5,818.8 447.9,818.7 Z"/></g>
<circle cx="464.5" cy="826.3" r="0.6" fill="#c63a40" opacity="0.9"/>
<circle cx="443.7" cy="834.5" r="0.8" fill="#c63a40" opacity="0.9"/>
<circle cx="475.0" cy="835.2" r="0.8" fill="#c63a40" opacity="0.9"/>
<circle cx="454.4" cy="824.8" r="1.1" fill="#c63a40" opacity="0.9"/>
<circle cx="442.3" cy="844.3" r="0.6" fill="#c63a40" opacity="0.9"/>
<circle cx="470.1" cy="826.7" r="0.8" fill="#c63a40" opacity="0.9"/>
<circle cx="444.7" cy="829.2" r="0.8" fill="#c63a40" opacity="0.9"/>
<circle cx="479.6" cy="840.7" r="0.8" fill="#c63a40" opacity="0.9"/>
<circle cx="445.6" cy="855.1" r="0.8" fill="#c63a40" opacity="0.9"/>
<circle cx="460.6" cy="822.4" r="0.8" fill="#c63a40" opacity="0.9"/>
<circle cx="472.9" cy="857.7" r="0.9" fill="#c63a40" opacity="0.9"/>
<circle cx="438.9" cy="838.1" r="0.8" fill="#c63a40" opacity="0.9"/>
<circle cx="476.5" cy="829.8" r="0.6" fill="#c63a40" opacity="0.9"/>
<circle cx="454.8" cy="861.9" r="0.6" fill="#c63a40" opacity="0.9"/>
<circle cx="449.4" cy="823.4" r="1.1" fill="#c63a40" opacity="0.9"/>
<circle cx="480.1" cy="847.9" r="1.1" fill="#c63a40" opacity="0.9"/>
<circle cx="440.3" cy="849.2" r="0.6" fill="#c63a40" opacity="0.9"/>
<circle cx="469.3" cy="821.4" r="1.1" fill="#c63a40" opacity="0.9"/>
<circle cx="465.8" cy="862.7" r="0.9" fill="#c63a40" opacity="0.9"/>
<circle cx="440.1" cy="831.1" r="1.1" fill="#c63a40" opacity="0.9"/>
<circle cx="480.8" cy="835.7" r="0.8" fill="#c63a40" opacity="0.9"/>
<circle cx="446.4" cy="859.7" r="1.1" fill="#c63a40" opacity="0.9"/>
<circle cx="456.1" cy="818.6" r="0.9" fill="#c63a40" opacity="0.9"/>
<circle cx="478.0" cy="855.3" r="0.9" fill="#c63a40" opacity="0.9"/>
<circle cx="437.0" cy="842.0" r="0.6" fill="#c63a40" opacity="0.9"/>
<circle cx="475.6" cy="824.6" r="0.9" fill="#c63a40" opacity="0.9"/>
<circle cx="461.4" cy="846.4" r="13.0" fill="#bd3034" stroke="#cf4a4e" stroke-width="1.1"/>
<g fill="#4fb233" stroke="#4fb233" stroke-width="2.0" stroke-linejoin="round"><circle cx="575.6" cy="842.6" r="24.8"/><path d="M558.2,826.4 Q559.2,822.3 556.6,816.7 L551.0,804.7 C550.7,804.1 550.9,803.2 551.5,802.8 C552.2,802.4 553.0,802.6 553.4,803.3 L561.5,813.8 Q565.2,818.7 569.3,819.6 Z M567.2,820.3 Q569.3,817.9 569.4,814.7 L569.4,808.3 C569.3,807.7 569.7,807.1 570.4,807.0 C571.0,806.9 571.6,807.3 571.7,808.0 L573.5,814.1 Q574.5,817.1 577.3,818.8 Z M575.1,818.8 Q577.9,817.2 579.0,814.5 L581.0,809.0 C581.2,808.3 581.8,807.9 582.4,808.1 C583.0,808.2 583.4,808.8 583.3,809.4 L583.1,815.3 Q583.1,818.3 585.1,820.8 Z M580.8,819.4 Q583.9,818.5 585.8,816.0 L589.2,810.7 C589.5,810.1 590.2,809.9 590.8,810.1 C591.4,810.4 591.6,811.1 591.3,811.7 L589.5,817.7 Q588.7,820.8 590.1,823.7 Z M589.6,823.4 Q592.9,823.8 595.7,822.1 L601.2,818.4 C601.7,818.0 602.4,818.0 602.8,818.5 C603.2,819.0 603.2,819.7 602.7,820.2 L598.4,825.2 Q596.4,827.8 596.4,831.0 Z M595.3,829.3 Q598.2,830.8 601.2,830.3 L607.1,828.9 C607.7,828.6 608.3,828.9 608.6,829.5 C608.8,830.1 608.5,830.8 607.9,831.0 L602.7,834.1 Q600.1,835.7 599.1,838.8 Z M599.4,844.5 Q600.6,847.4 603.5,848.9 L609.4,851.6 C610.0,851.8 610.3,852.5 610.1,853.1 C610.0,853.7 609.3,854.0 608.7,853.8 L602.3,852.8 Q599.1,852.5 596.4,854.2 Z M594.5,857.1 Q594.1,860.4 596.4,864.0 L601.4,871.3 C601.8,871.8 601.7,872.5 601.3,873.0 C600.8,873.4 600.0,873.3 599.6,872.8 L593.2,866.6 Q590.1,863.8 586.7,863.7 Z M585.0,864.5 Q582.9,866.9 582.8,869.4 L582.8,874.2 C582.9,874.8 582.5,875.5 581.9,875.6 C581.3,875.7 580.6,875.3 580.5,874.7 L578.8,870.2 Q577.7,867.9 574.9,866.4 Z M576.3,866.4 Q573.5,867.9 572.5,870.4 L570.7,875.2 C570.6,875.8 569.9,876.2 569.3,876.1 C568.7,876.0 568.3,875.4 568.4,874.7 L568.5,869.6 Q568.3,866.9 566.3,864.5 Z M564.8,863.9 Q561.5,864.1 558.2,867.1 L551.6,873.8 C551.2,874.3 550.4,874.4 549.9,874.0 C549.5,873.6 549.4,872.9 549.8,872.4 L555.0,864.5 Q557.4,860.7 556.9,857.4 Z M561.5,861.8 Q558.4,861.2 556.2,862.3 L552.1,864.7 C551.6,865.1 550.9,865.1 550.5,864.6 C550.1,864.1 550.1,863.4 550.6,862.9 L553.5,859.3 Q554.9,857.2 554.7,854.1 Z M556.3,856.6 Q553.4,855.1 550.5,855.8 L544.7,857.3 C544.1,857.6 543.4,857.3 543.1,856.7 C542.9,856.1 543.2,855.5 543.7,855.2 L548.8,852.0 Q551.3,850.3 552.2,847.2 Z M552.9,849.9 Q550.5,847.7 546.8,847.5 L539.2,847.3 C538.5,847.4 538.0,846.9 537.9,846.3 C537.8,845.6 538.3,845.1 539.0,845.0 L546.4,843.4 Q550.0,842.4 551.9,839.8 Z M551.9,840.4 Q550.7,837.5 548.3,836.1 L543.4,833.6 C542.8,833.4 542.4,832.7 542.6,832.1 C542.8,831.5 543.5,831.2 544.1,831.4 L549.5,832.2 Q552.3,832.4 555.0,830.7 Z M553.6,833.5 Q553.3,830.3 551.1,828.0 L546.6,823.8 C546.0,823.4 545.9,822.7 546.3,822.2 C546.7,821.7 547.4,821.5 547.9,821.9 L553.5,824.7 Q556.3,825.9 559.4,825.1 Z M556.7,828.0 Q557.4,824.9 556.3,822.7 L554.0,818.6 C553.6,818.1 553.6,817.4 554.1,816.9 C554.6,816.5 555.4,816.6 555.8,817.1 L559.4,820.1 Q561.4,821.6 564.6,821.5 Z"/></g>
<g fill="#a1d985"><circle cx="575.6" cy="842.6" r="24.8"/><path d="M558.2,826.4 Q559.2,822.3 556.6,816.7 L551.0,804.7 C550.7,804.1 550.9,803.2 551.5,802.8 C552.2,802.4 553.0,802.6 553.4,803.3 L561.5,813.8 Q565.2,818.7 569.3,819.6 Z M567.2,820.3 Q569.3,817.9 569.4,814.7 L569.4,808.3 C569.3,807.7 569.7,807.1 570.4,807.0 C571.0,806.9 571.6,807.3 571.7,808.0 L573.5,814.1 Q574.5,817.1 577.3,818.8 Z M575.1,818.8 Q577.9,817.2 579.0,814.5 L581.0,809.0 C581.2,808.3 581.8,807.9 582.4,808.1 C583.0,808.2 583.4,808.8 583.3,809.4 L583.1,815.3 Q583.1,818.3 585.1,820.8 Z M580.8,819.4 Q583.9,818.5 585.8,816.0 L589.2,810.7 C589.5,810.1 590.2,809.9 590.8,810.1 C591.4,810.4 591.6,811.1 591.3,811.7 L589.5,817.7 Q588.7,820.8 590.1,823.7 Z M589.6,823.4 Q592.9,823.8 595.7,822.1 L601.2,818.4 C601.7,818.0 602.4,818.0 602.8,818.5 C603.2,819.0 603.2,819.7 602.7,820.2 L598.4,825.2 Q596.4,827.8 596.4,831.0 Z M595.3,829.3 Q598.2,830.8 601.2,830.3 L607.1,828.9 C607.7,828.6 608.3,828.9 608.6,829.5 C608.8,830.1 608.5,830.8 607.9,831.0 L602.7,834.1 Q600.1,835.7 599.1,838.8 Z M599.4,844.5 Q600.6,847.4 603.5,848.9 L609.4,851.6 C610.0,851.8 610.3,852.5 610.1,853.1 C610.0,853.7 609.3,854.0 608.7,853.8 L602.3,852.8 Q599.1,852.5 596.4,854.2 Z M594.5,857.1 Q594.1,860.4 596.4,864.0 L601.4,871.3 C601.8,871.8 601.7,872.5 601.3,873.0 C600.8,873.4 600.0,873.3 599.6,872.8 L593.2,866.6 Q590.1,863.8 586.7,863.7 Z M585.0,864.5 Q582.9,866.9 582.8,869.4 L582.8,874.2 C582.9,874.8 582.5,875.5 581.9,875.6 C581.3,875.7 580.6,875.3 580.5,874.7 L578.8,870.2 Q577.7,867.9 574.9,866.4 Z M576.3,866.4 Q573.5,867.9 572.5,870.4 L570.7,875.2 C570.6,875.8 569.9,876.2 569.3,876.1 C568.7,876.0 568.3,875.4 568.4,874.7 L568.5,869.6 Q568.3,866.9 566.3,864.5 Z M564.8,863.9 Q561.5,864.1 558.2,867.1 L551.6,873.8 C551.2,874.3 550.4,874.4 549.9,874.0 C549.5,873.6 549.4,872.9 549.8,872.4 L555.0,864.5 Q557.4,860.7 556.9,857.4 Z M561.5,861.8 Q558.4,861.2 556.2,862.3 L552.1,864.7 C551.6,865.1 550.9,865.1 550.5,864.6 C550.1,864.1 550.1,863.4 550.6,862.9 L553.5,859.3 Q554.9,857.2 554.7,854.1 Z M556.3,856.6 Q553.4,855.1 550.5,855.8 L544.7,857.3 C544.1,857.6 543.4,857.3 543.1,856.7 C542.9,856.1 543.2,855.5 543.7,855.2 L548.8,852.0 Q551.3,850.3 552.2,847.2 Z M552.9,849.9 Q550.5,847.7 546.8,847.5 L539.2,847.3 C538.5,847.4 538.0,846.9 537.9,846.3 C537.8,845.6 538.3,845.1 539.0,845.0 L546.4,843.4 Q550.0,842.4 551.9,839.8 Z M551.9,840.4 Q550.7,837.5 548.3,836.1 L543.4,833.6 C542.8,833.4 542.4,832.7 542.6,832.1 C542.8,831.5 543.5,831.2 544.1,831.4 L549.5,832.2 Q552.3,832.4 555.0,830.7 Z M553.6,833.5 Q553.3,830.3 551.1,828.0 L546.6,823.8 C546.0,823.4 545.9,822.7 546.3,822.2 C546.7,821.7 547.4,821.5 547.9,821.9 L553.5,824.7 Q556.3,825.9 559.4,825.1 Z M556.7,828.0 Q557.4,824.9 556.3,822.7 L554.0,818.6 C553.6,818.1 553.6,817.4 554.1,816.9 C554.6,816.5 555.4,816.6 555.8,817.1 L559.4,820.1 Q561.4,821.6 564.6,821.5 Z"/></g>
<circle cx="560.2" cy="842.3" r="0.6" fill="#57b03a" opacity="0.9"/>
<circle cx="586.8" cy="830.9" r="0.8" fill="#57b03a" opacity="0.9"/>
<circle cx="564.6" cy="829.2" r="1.1" fill="#57b03a" opacity="0.9"/>
<circle cx="591.3" cy="845.2" r="0.8" fill="#57b03a" opacity="0.9"/>
<circle cx="561.8" cy="852.1" r="0.6" fill="#57b03a" opacity="0.9"/>
<circle cx="579.7" cy="825.8" r="0.8" fill="#57b03a" opacity="0.9"/>
<circle cx="583.2" cy="858.3" r="0.9" fill="#57b03a" opacity="0.9"/>
<circle cx="558.8" cy="837.1" r="0.9" fill="#57b03a" opacity="0.9"/>
<circle cx="592.0" cy="835.7" r="0.6" fill="#57b03a" opacity="0.9"/>
<circle cx="568.5" cy="859.3" r="0.9" fill="#57b03a" opacity="0.9"/>
<circle cx="569.1" cy="825.7" r="0.6" fill="#57b03a" opacity="0.9"/>
<circle cx="592.0" cy="851.5" r="1.1" fill="#57b03a" opacity="0.9"/>
<circle cx="557.9" cy="847.0" r="1.1" fill="#57b03a" opacity="0.9"/>
<circle cx="585.9" cy="826.5" r="0.8" fill="#57b03a" opacity="0.9"/>
<circle cx="578.8" cy="861.1" r="0.9" fill="#57b03a" opacity="0.9"/>
<circle cx="560.6" cy="831.1" r="1.1" fill="#57b03a" opacity="0.9"/>
<circle cx="594.8" cy="842.1" r="0.6" fill="#57b03a" opacity="0.9"/>
<circle cx="562.0" cy="856.3" r="0.9" fill="#57b03a" opacity="0.9"/>
<circle cx="575.5" cy="822.6" r="0.6" fill="#57b03a" opacity="0.9"/>
<circle cx="589.6" cy="857.1" r="0.9" fill="#57b03a" opacity="0.9"/>
<circle cx="555.1" cy="840.1" r="1.1" fill="#57b03a" opacity="0.9"/>
<circle cx="592.3" cy="830.4" r="0.6" fill="#57b03a" opacity="0.9"/>
<circle cx="572.3" cy="862.9" r="0.6" fill="#57b03a" opacity="0.9"/>
<circle cx="564.0" cy="825.0" r="1.1" fill="#57b03a" opacity="0.9"/>
<circle cx="595.5" cy="848.3" r="0.9" fill="#57b03a" opacity="0.9"/>
<circle cx="555.7" cy="852.0" r="0.8" fill="#57b03a" opacity="0.9"/>
<circle cx="583.6" cy="822.5" r="0.8" fill="#57b03a" opacity="0.9"/>
<circle cx="583.9" cy="862.2" r="0.8" fill="#57b03a" opacity="0.9"/>
<circle cx="577.0" cy="845.3" r="12.2" fill="#60b13b" stroke="#80c862" stroke-width="1.1"/>
<path d="M334.04,953.28 C336.29,953.32 339.10,953.62 341.35,954.63 C343.60,955.65 345.57,958.09 347.54,959.36 C349.51,960.64 351.39,961.48 353.17,962.29 C354.96,963.10 356.64,963.00 358.24,964.20 C359.83,965.40 361.34,967.71 362.74,969.49 C364.15,971.28 365.09,972.97 366.68,974.90 C368.28,976.83 370.81,979.03 372.31,981.09 C373.81,983.15 374.94,985.31 375.69,987.28 C376.44,989.25 376.78,991.03 376.81,992.91 C376.85,994.79 376.57,996.76 375.91,998.54 C375.26,1000.32 373.85,1002.01 372.87,1003.60 C371.90,1005.20 370.62,1006.51 370.06,1008.11 C369.50,1009.70 369.78,1011.58 369.50,1013.17 C369.22,1014.77 369.31,1015.99 368.37,1017.68 C367.43,1019.37 365.37,1021.47 363.87,1023.31 C362.37,1025.14 360.96,1027.30 359.37,1028.71 C357.77,1030.12 356.27,1031.19 354.30,1031.75 C352.33,1032.31 349.80,1032.14 347.54,1032.09 C345.29,1032.03 343.23,1031.41 340.79,1031.41 C338.35,1031.41 335.54,1031.82 332.91,1032.09 C330.28,1032.35 327.38,1033.04 325.03,1032.99 C322.68,1032.93 320.81,1032.61 318.84,1031.75 C316.87,1030.89 314.99,1029.40 313.21,1027.81 C311.43,1026.21 309.93,1024.06 308.14,1022.18 C306.36,1020.30 303.83,1018.43 302.51,1016.55 C301.20,1014.67 300.68,1012.89 300.26,1010.92 C299.85,1008.95 300.60,1006.79 300.04,1004.73 C299.48,1002.67 297.79,1000.70 296.89,998.54 C295.99,996.38 294.82,993.85 294.63,991.78 C294.45,989.72 295.10,987.94 295.76,986.16 C296.42,984.37 297.54,982.97 298.57,981.09 C299.61,979.21 300.92,976.96 301.95,974.90 C302.98,972.83 303.55,970.49 304.77,968.71 C305.99,966.92 307.39,965.46 309.27,964.20 C311.15,962.95 313.87,962.23 316.02,961.16 C318.18,960.09 320.25,958.91 322.22,957.79 C324.19,956.66 325.87,955.16 327.84,954.41 C329.81,953.66 331.78,953.25 334.04,953.28 Z" fill="#9391cf" stroke="#4c3fa4" stroke-width="1.5"/>
<circle cx="322.8" cy="969.0" r="1.0" fill="#5f4fae" opacity="0.8"/>
<circle cx="340.0" cy="967.0" r="1.4" fill="#5f4fae" opacity="0.8"/>
<circle cx="348.3" cy="967.0" r="0.8" fill="#5f4fae" opacity="0.8"/>
<circle cx="330.3" cy="972.3" r="0.8" fill="#5f4fae" opacity="0.8"/>
<circle cx="317.7" cy="976.2" r="0.8" fill="#5f4fae" opacity="0.8"/>
<circle cx="343.4" cy="975.8" r="0.9" fill="#5f4fae" opacity="0.8"/>
<circle cx="329.5" cy="980.3" r="1.6" fill="#5f4fae" opacity="0.8"/>
<circle cx="356.6" cy="980.8" r="0.9" fill="#5f4fae" opacity="0.8"/>
<circle cx="308.7" cy="983.9" r="0.8" fill="#5f4fae" opacity="0.8"/>
<circle cx="345.6" cy="983.6" r="1.1" fill="#5f4fae" opacity="0.8"/>
<circle cx="319.1" cy="987.3" r="1.1" fill="#5f4fae" opacity="0.8"/>
<circle cx="324.5" cy="987.8" r="0.7" fill="#5f4fae" opacity="0.8"/>
<circle cx="363.5" cy="988.4" r="0.7" fill="#5f4fae" opacity="0.8"/>
<circle cx="361.4" cy="992.9" r="1.5" fill="#5f4fae" opacity="0.8"/>
<circle cx="305.7" cy="995.7" r="1.1" fill="#5f4fae" opacity="0.8"/>
<circle cx="319.4" cy="996.3" r="1.3" fill="#5f4fae" opacity="0.8"/>
<circle cx="368.0" cy="996.6" r="1.0" fill="#5f4fae" opacity="0.8"/>
<circle cx="312.1" cy="1000.8" r="0.9" fill="#5f4fae" opacity="0.8"/>
<circle cx="361.3" cy="1010.4" r="1.4" fill="#5f4fae" opacity="0.8"/>
<circle cx="312.1" cy="1010.9" r="0.9" fill="#5f4fae" opacity="0.8"/>
<circle cx="321.1" cy="1009.8" r="0.9" fill="#5f4fae" opacity="0.8"/>
<circle cx="321.1" cy="1023.9" r="1.1" fill="#5f4fae" opacity="0.8"/>
<circle cx="335.9" cy="1023.6" r="1.0" fill="#5f4fae" opacity="0.8"/>
<circle cx="353.2" cy="1024.2" r="1.1" fill="#5f4fae" opacity="0.8"/>
<circle cx="341.1" cy="1002.3" r="16.6" fill="#5f549f" stroke="#7d75bb" stroke-width="1.2"/>
<path d="M635.94,950.68 C638.19,950.72 641.00,951.02 643.25,952.03 C645.50,953.05 647.47,955.49 649.44,956.76 C651.41,958.04 653.29,958.88 655.07,959.69 C656.86,960.50 658.54,960.40 660.14,961.60 C661.73,962.80 663.24,965.11 664.64,966.89 C666.05,968.68 666.99,970.37 668.58,972.30 C670.18,974.23 672.71,976.43 674.21,978.49 C675.71,980.55 676.84,982.71 677.59,984.68 C678.34,986.65 678.68,988.43 678.71,990.31 C678.75,992.19 678.47,994.16 677.81,995.94 C677.16,997.72 675.75,999.41 674.77,1001.00 C673.80,1002.60 672.52,1003.91 671.96,1005.51 C671.40,1007.10 671.68,1008.98 671.40,1010.57 C671.12,1012.17 671.21,1013.39 670.27,1015.08 C669.33,1016.77 667.27,1018.87 665.77,1020.71 C664.27,1022.54 662.86,1024.70 661.27,1026.11 C659.67,1027.52 658.17,1028.59 656.20,1029.15 C654.23,1029.71 651.70,1029.54 649.44,1029.49 C647.19,1029.43 645.13,1028.81 642.69,1028.81 C640.25,1028.81 637.44,1029.22 634.81,1029.49 C632.18,1029.75 629.28,1030.44 626.93,1030.39 C624.58,1030.33 622.71,1030.01 620.74,1029.15 C618.77,1028.29 616.89,1026.80 615.11,1025.21 C613.33,1023.61 611.83,1021.46 610.04,1019.58 C608.26,1017.70 605.73,1015.83 604.41,1013.95 C603.10,1012.07 602.58,1010.29 602.16,1008.32 C601.75,1006.35 602.50,1004.19 601.94,1002.13 C601.38,1000.07 599.69,998.10 598.79,995.94 C597.89,993.78 596.72,991.25 596.53,989.18 C596.35,987.12 597.00,985.34 597.66,983.56 C598.32,981.77 599.44,980.37 600.47,978.49 C601.51,976.61 602.82,974.36 603.85,972.30 C604.88,970.23 605.45,967.89 606.67,966.11 C607.89,964.32 609.29,962.86 611.17,961.60 C613.05,960.35 615.77,959.63 617.92,958.56 C620.08,957.49 622.15,956.31 624.12,955.19 C626.09,954.06 627.77,952.56 629.74,951.81 C631.71,951.06 633.68,950.65 635.94,950.68 Z" fill="#e3676b" stroke="#cf2c38" stroke-width="1.5"/>
<circle cx="624.7" cy="966.4" r="1.0" fill="#c23239" opacity="0.8"/>
<circle cx="641.9" cy="964.4" r="1.4" fill="#c23239" opacity="0.8"/>
<circle cx="650.2" cy="964.4" r="0.8" fill="#c23239" opacity="0.8"/>
<circle cx="632.2" cy="969.7" r="0.8" fill="#c23239" opacity="0.8"/>
<circle cx="619.6" cy="973.6" r="0.8" fill="#c23239" opacity="0.8"/>
<circle cx="645.3" cy="973.2" r="0.9" fill="#c23239" opacity="0.8"/>
<circle cx="631.4" cy="977.7" r="1.6" fill="#c23239" opacity="0.8"/>
<circle cx="658.5" cy="978.2" r="0.9" fill="#c23239" opacity="0.8"/>
<circle cx="610.6" cy="981.3" r="0.8" fill="#c23239" opacity="0.8"/>
<circle cx="647.5" cy="981.0" r="1.1" fill="#c23239" opacity="0.8"/>
<circle cx="621.0" cy="984.7" r="1.1" fill="#c23239" opacity="0.8"/>
<circle cx="626.4" cy="985.2" r="0.7" fill="#c23239" opacity="0.8"/>
<circle cx="665.4" cy="985.8" r="0.7" fill="#c23239" opacity="0.8"/>
<circle cx="663.3" cy="990.3" r="1.5" fill="#c23239" opacity="0.8"/>
<circle cx="607.6" cy="993.1" r="1.1" fill="#c23239" opacity="0.8"/>
<circle cx="621.3" cy="993.7" r="1.3" fill="#c23239" opacity="0.8"/>
<circle cx="669.9" cy="994.0" r="1.0" fill="#c23239" opacity="0.8"/>
<circle cx="614.0" cy="998.2" r="0.9" fill="#c23239" opacity="0.8"/>
<circle cx="663.2" cy="1007.8" r="1.4" fill="#c23239" opacity="0.8"/>
<circle cx="614.0" cy="1008.3" r="0.9" fill="#c23239" opacity="0.8"/>
<circle cx="623.0" cy="1007.2" r="0.9" fill="#c23239" opacity="0.8"/>
<circle cx="623.0" cy="1021.3" r="1.1" fill="#c23239" opacity="0.8"/>
<circle cx="637.8" cy="1021.0" r="1.0" fill="#c23239" opacity="0.8"/>
<circle cx="655.1" cy="1021.6" r="1.1" fill="#c23239" opacity="0.8"/>
<circle cx="643.0" cy="999.7" r="16.6" fill="#bd3034" stroke="#d04a4e" stroke-width="1.2"/>
<path d="M170.4,50 C165.0,64 165.0,100 170.4,114 Z" fill="url(#callus)" stroke="#7d6a22" stroke-width="1"/>
<path d="M237.9,50 C243.9,64 243.9,100 237.9,114 Z" fill="url(#callus)" stroke="#7d6a22" stroke-width="1"/>
<path d="M170.4,25.3 C170.4,16.3 182.4,6.3 204.15,6.3 C225.9,6.3 237.9,16.3 237.9,25.3 Z" fill="#fdf1d9" stroke="#7a6026" stroke-width="1.7"/>
<path d="M174.4,22.3 C175.4,15.3 186.4,9.5 204.15,9.5 C221.9,9.5 232.9,15.3 233.9,22.3" fill="none" stroke="#fff8ea" stroke-width="1.6" opacity="0.9"/>
<rect x="170.4" y="25.3" width="67.5" height="108.10000000000001" fill="url(#cortL)"/>
<rect x="170.4" y="25.3" width="21.5" height="108.10000000000001" fill="url(#cortL)"/>
<rect x="216.1" y="25.3" width="21.80000000000001" height="108.10000000000001" fill="url(#cortL)"/>
<rect x="188.5" y="26.3" width="2.6" height="106.10000000000001" fill="#fde7a8" opacity="0.8"/>
<rect x="217.0" y="26.3" width="2.0" height="106.10000000000001" fill="#fde7a8" opacity="0.7"/>
<path d="M191.9,134.6 C195.9,125.75 199.0,124.9 204.0,124.9 C209.0,124.9 212.1,125.75 216.1,134.6 Z" fill="#ffffff"/>
<path d="M191.9,134.0 V29.0 C191.9,22.5 196.9,19.0 204.0,19.0 C211.1,19.0 216.1,22.5 216.1,29.0 V134.0 C212.1,125.75 209.0,124.9 204.0,124.9 C199.0,124.9 195.9,125.75 191.9,134.0 Z" fill="url(#marrow)" stroke="#1f1a10" stroke-width="1.4" stroke-linejoin="round"/>
<path d="M197.4,121.9 V29.0 C197.4,24.0 199.9,22.5 205.0,22.5 C209.1,22.5 211.1,24.0 211.1,29.0 V121.9 Z" fill="#e4cd90" opacity="0.55"/>
<path d="M170.4,25.3 V133.4" fill="none" stroke="#14110a" stroke-width="2.0"/>
<path d="M237.9,25.3 V133.4" fill="none" stroke="#6b5520" stroke-width="1.2"/>
<path d="M169.5,133.4 H191.9 M216.1,133.4 H238.4" fill="none" stroke="#14110a" stroke-width="1.9"/>
<path d="M170.4,25.3 H191.9 M216.1,25.3 H237.9" fill="none" stroke="#2a2210" stroke-width="0.9"/>
<path d="M183.1,27.4 C183.4,28.1 184.7,30.4 185.2,31.7 C185.6,32.9 185.2,34.3 185.9,35.2 C186.6,36.0 188.3,36.3 189.4,36.9 C190.4,37.4 191.3,36.9 192.2,38.7 C193.1,40.5 194.0,44.2 195.0,47.8 C196.1,51.5 197.6,56.7 198.5,60.5 C199.5,64.2 200.3,68.7 200.6,70.3 M207.0,24.6 C207.4,26.1 209.0,30.1 209.8,33.8 C210.6,37.4 211.6,42.2 211.9,46.4 C212.2,50.6 211.7,55.2 211.5,59.1 C211.2,63.0 210.7,67.9 210.5,69.6" fill="none" stroke="#6e1013" stroke-width="2.10" stroke-linecap="round" stroke-linejoin="round"/>
<path d="M185.9,35.2 C185.2,35.4 183.1,36.1 181.7,36.3 C180.2,36.5 178.1,36.5 177.4,36.6 M211.9,56.3 C212.3,55.5 212.8,52.7 214.4,51.8 C216.1,50.9 219.7,50.3 221.8,50.9 C223.8,51.6 225.2,54.0 226.7,55.6 C228.1,57.1 229.8,59.4 230.5,60.2 M221.8,50.9 C222.6,49.7 225.0,45.4 226.7,43.6 C228.3,41.8 230.8,40.7 231.6,40.1 M226.7,43.6 C227.0,42.6 228.2,39.3 228.4,37.3 C228.5,35.2 227.9,32.2 227.8,31.2 M175.0,60.5 C175.4,61.4 177.1,64.4 177.4,66.1 C177.8,67.9 177.1,70.2 177.0,71.0 M177.4,66.1 C177.9,65.8 179.8,64.4 180.2,64.0" fill="none" stroke="#6e1013" stroke-width="1.65" stroke-linecap="round" stroke-linejoin="round"/>
<path d="M183.1,27.4 C183.4,28.1 184.7,30.4 185.2,31.7 C185.6,32.9 185.2,34.3 185.9,35.2 C186.6,36.0 188.3,36.3 189.4,36.9 C190.4,37.4 191.3,36.9 192.2,38.7 C193.1,40.5 194.0,44.2 195.0,47.8 C196.1,51.5 197.6,56.7 198.5,60.5 C199.5,64.2 200.3,68.7 200.6,70.3 M207.0,24.6 C207.4,26.1 209.0,30.1 209.8,33.8 C210.6,37.4 211.6,42.2 211.9,46.4 C212.2,50.6 211.7,55.2 211.5,59.1 C211.2,63.0 210.7,67.9 210.5,69.6" fill="none" stroke="#d8282c" stroke-width="1.30" stroke-linecap="round" stroke-linejoin="round"/>
<path d="M185.9,35.2 C185.2,35.4 183.1,36.1 181.7,36.3 C180.2,36.5 178.1,36.5 177.4,36.6 M211.9,56.3 C212.3,55.5 212.8,52.7 214.4,51.8 C216.1,50.9 219.7,50.3 221.8,50.9 C223.8,51.6 225.2,54.0 226.7,55.6 C228.1,57.1 229.8,59.4 230.5,60.2 M221.8,50.9 C222.6,49.7 225.0,45.4 226.7,43.6 C228.3,41.8 230.8,40.7 231.6,40.1 M226.7,43.6 C227.0,42.6 228.2,39.3 228.4,37.3 C228.5,35.2 227.9,32.2 227.8,31.2 M175.0,60.5 C175.4,61.4 177.1,64.4 177.4,66.1 C177.8,67.9 177.1,70.2 177.0,71.0 M177.4,66.1 C177.9,65.8 179.8,64.4 180.2,64.0" fill="none" stroke="#d8282c" stroke-width="0.85" stroke-linecap="round" stroke-linejoin="round"/>
<path d="M166.6,75.0 L168.8,72.6 L170.9,71.8 L173.2,71.2 L175.4,72.1 L178.0,71.0 L180.0,71.0 L182.5,72.2 L184.2,72.8 L186.9,72.1 L189.3,71.1 L190.9,71.9 L192.6,69.2 L194.5,68.9 L196.6,69.7 L199.2,69.8 L201.6,69.8 L204.0,69.7 L205.9,70.8 L208.7,70.5 L211.2,69.4 L213.0,69.4 L214.7,70.3 L216.8,74.3 L218.9,74.5 L221.5,72.6 L223.3,74.4 L225.5,74.6 L227.6,72.7 L229.9,74.2 L231.9,72.8 L233.9,74.5 L236.4,72.8 L238.3,72.8 L239.9,74.2 L241.6,75.0 L242.6,81.0 L241.8,88.0 L239.5,91.3 L237.1,91.2 L235.0,91.4 L233.1,92.9 L230.6,91.6 L227.9,91.4 L225.8,92.7 L223.5,91.2 L220.7,91.4 L218.8,92.5 L216.8,91.6 L215.1,87.2 L212.8,87.5 L210.5,87.7 L208.3,88.9 L206.1,88.1 L203.5,87.4 L201.7,88.8 L199.1,87.5 L197.3,88.5 L194.6,87.4 L191.8,88.8 L189.5,89.4 L187.8,88.7 L185.0,89.1 L182.6,89.1 L180.0,89.8 L178.0,89.0 L175.6,88.7 L173.7,89.7 L171.1,89.8 L169.1,90.4 L166.6,88.0 L165.8,81.0 Z" fill="#ee6e4f"/>
<path d="M166.6,75.0 L168.8,72.6 L170.9,71.8 L173.2,71.2 L175.4,72.1 L178.0,71.0 L180.0,71.0 L182.5,72.2 L184.2,72.8 L186.9,72.1 L189.3,71.1 L190.9,71.9 L192.6,69.2 L194.5,68.9 L196.6,69.7 L199.2,69.8 L201.6,69.8 L204.0,69.7 L205.9,70.8 L208.7,70.5 L211.2,69.4 L213.0,69.4 L214.7,70.3 L216.8,74.3 L218.9,74.5 L221.5,72.6 L223.3,74.4 L225.5,74.6 L227.6,72.7 L229.9,74.2 L231.9,72.8 L233.9,74.5 L236.4,72.8 L238.3,72.8 L239.9,74.2 L241.6,75.0" fill="none" stroke="#2a150c" stroke-width="0.9" stroke-linejoin="round"/>
<path d="M241.8,88.0 L239.5,91.3 L237.1,91.2 L235.0,91.4 L233.1,92.9 L230.6,91.6 L227.9,91.4 L225.8,92.7 L223.5,91.2 L220.7,91.4 L218.8,92.5 L216.8,91.6 L215.1,87.2 L212.8,87.5 L210.5,87.7 L208.3,88.9 L206.1,88.1 L203.5,87.4 L201.7,88.8 L199.1,87.5 L197.3,88.5 L194.6,87.4 L191.8,88.8 L189.5,89.4 L187.8,88.7 L185.0,89.1 L182.6,89.1 L180.0,89.8 L178.0,89.0 L175.6,88.7 L173.7,89.7 L171.1,89.8 L169.1,90.4 L166.6,88.0" fill="none" stroke="#8c1f17" stroke-width="0.9" stroke-linejoin="round"/>
<path d="M170.2,72 C166,76 166,88 170.2,92 Z" fill="#e2553a"/>
<path d="M238,72 C242.6,76 242.6,88 238,92 Z" fill="#e2553a"/>
<path d="M178.8,90.7 C179.5,91.6 181.1,94.6 183.1,95.7 C185.1,96.8 188.6,95.9 190.8,97.4 C193.0,98.8 194.3,101.6 196.4,104.1 C198.5,106.6 201.5,109.5 203.5,112.5 C205.5,115.6 207.1,119.0 208.4,122.4 C209.7,125.8 210.7,131.2 211.2,132.9 M197.1,90.3 C197.7,92.1 199.1,97.6 200.6,101.3 C202.2,105.0 204.8,108.8 206.3,112.5 C207.8,116.3 208.9,120.4 209.8,123.8 C210.7,127.2 211.2,131.4 211.5,132.9 M211.2,88.4 C210.8,90.0 209.0,94.9 209.1,98.5 C209.2,102.0 211.7,106.0 211.9,109.7 C212.1,113.5 210.5,117.1 210.5,121.0 C210.5,124.9 211.7,131.0 211.9,132.9" fill="none" stroke="#6e1013" stroke-width="2.10" stroke-linecap="round" stroke-linejoin="round"/>
<path d="M183.1,95.7 C182.5,96.1 180.9,97.7 179.8,98.5 C178.8,99.3 177.2,100.2 176.7,100.6 M217.5,132.9 C218.5,131.7 221.4,127.7 223.2,125.2 C224.9,122.7 226.9,120.3 228.1,118.2 C229.3,116.1 229.8,113.5 230.2,112.5 M223.2,125.2 C222.9,123.9 221.9,120.0 221.5,117.5 C221.0,114.9 220.5,111.3 220.3,110.0" fill="none" stroke="#6e1013" stroke-width="1.65" stroke-linecap="round" stroke-linejoin="round"/>
<path d="M178.8,90.7 C179.5,91.6 181.1,94.6 183.1,95.7 C185.1,96.8 188.6,95.9 190.8,97.4 C193.0,98.8 194.3,101.6 196.4,104.1 C198.5,106.6 201.5,109.5 203.5,112.5 C205.5,115.6 207.1,119.0 208.4,122.4 C209.7,125.8 210.7,131.2 211.2,132.9 M197.1,90.3 C197.7,92.1 199.1,97.6 200.6,101.3 C202.2,105.0 204.8,108.8 206.3,112.5 C207.8,116.3 208.9,120.4 209.8,123.8 C210.7,127.2 211.2,131.4 211.5,132.9 M211.2,88.4 C210.8,90.0 209.0,94.9 209.1,98.5 C209.2,102.0 211.7,106.0 211.9,109.7 C212.1,113.5 210.5,117.1 210.5,121.0 C210.5,124.9 211.7,131.0 211.9,132.9" fill="none" stroke="#d8282c" stroke-width="1.30" stroke-linecap="round" stroke-linejoin="round"/>
<path d="M183.1,95.7 C182.5,96.1 180.9,97.7 179.8,98.5 C178.8,99.3 177.2,100.2 176.7,100.6 M217.5,132.9 C218.5,131.7 221.4,127.7 223.2,125.2 C224.9,122.7 226.9,120.3 228.1,118.2 C229.3,116.1 229.8,113.5 230.2,112.5 M223.2,125.2 C222.9,123.9 221.9,120.0 221.5,117.5 C221.0,114.9 220.5,111.3 220.3,110.0" fill="none" stroke="#d8282c" stroke-width="0.85" stroke-linecap="round" stroke-linejoin="round"/>
<path d="M1011.2,23.6 C1011.2,14.600000000000001 1023.2,5.0 1044.4,5.0 C1065.6,5.0 1077.6,14.600000000000001 1077.6,23.6 Z" fill="#fdf1d9" stroke="#7a6026" stroke-width="1.7"/>
<path d="M1015.2,20.6 C1016.2,13.600000000000001 1027.2,8.2 1044.4,8.2 C1061.6,8.2 1072.6,13.600000000000001 1073.6,20.6" fill="none" stroke="#fff8ea" stroke-width="1.6" opacity="0.9"/>
<path d="M1011.2,23.6 C1010,38 1008.2,55 1008.2,72 C1008.2,88 1009.6,100 1011.2,110 V134.4 H1077.7 V112 C1079,100 1080.0,88 1080.0,72 C1080.0,55 1078.8,38 1077.5,23.6 Z" fill="url(#cortL)"/>
<rect x="1011.2" y="23.6" width="20.59999999999991" height="110.80000000000001" fill="url(#cortL)"/>
<rect x="1056.1" y="23.6" width="21.5" height="110.80000000000001" fill="url(#cortL)"/>
<rect x="1028.3999999999999" y="24.6" width="2.6" height="108.80000000000001" fill="#fde7a8" opacity="0.8"/>
<rect x="1057.0" y="24.6" width="2.0" height="108.80000000000001" fill="#fde7a8" opacity="0.7"/>
<path d="M1031.8,135.6 C1035.8,128.55 1038.9499999999998,127.9 1043.9499999999998,127.9 C1048.9499999999998,127.9 1052.1,128.55 1056.1,135.6 Z" fill="#ffffff"/>
<path d="M1031.8,135.0 V28.2 C1031.8,21.7 1036.8,18.2 1043.9499999999998,18.2 C1051.1,18.2 1056.1,21.7 1056.1,28.2 V135.0 C1052.1,128.55 1048.9499999999998,127.9 1043.9499999999998,127.9 C1038.9499999999998,127.9 1035.8,128.55 1031.8,135.0 Z" fill="url(#marrow)" stroke="#1f1a10" stroke-width="1.4" stroke-linejoin="round"/>
<path d="M1037.3,124.9 V28.2 C1037.3,23.2 1039.8,21.7 1044.9499999999998,21.7 C1049.1,21.7 1051.1,23.2 1051.1,28.2 V124.9 Z" fill="#e4cd90" opacity="0.55"/>
<path d="M1010.3000000000001,134.4 H1031.8 M1056.1,134.4 H1078.1" fill="none" stroke="#14110a" stroke-width="1.9"/>
<path d="M1011.2,23.6 H1031.8 M1056.1,23.6 H1077.6" fill="none" stroke="#2a2210" stroke-width="0.9"/>
<path d="M1011.2,23.6 C1010,38 1008.2,55 1008.2,72 C1008.2,88 1009.6,100 1011.2,110 V134.4" fill="none" stroke="#5a4514" stroke-width="1.7"/>
<path d="M1011.8,23.6 C1011.3,30 1010.6,36 1010.2,42" fill="none" stroke="#14110a" stroke-width="2.0"/>
<path d="M1012.0,104 V135.2" fill="none" stroke="#0c0a06" stroke-width="2.2"/>
<path d="M1077.5,23.6 C1078.8,38 1080.0,55 1080.0,72 C1080.0,88 1079,100 1077.7,112 V134.4" fill="none" stroke="#7a6024" stroke-width="1.5"/>
<path d="M1022.3,26.3 C1022.7,27.0 1024.2,29.3 1024.9,30.8 C1025.5,32.3 1025.1,34.2 1026.1,35.3 C1027.0,36.4 1029.2,36.6 1030.6,37.2 C1031.9,37.9 1033.1,36.7 1034.3,39.0 C1035.6,41.3 1037.1,46.5 1038.1,51.1 C1039.1,55.6 1040.3,61.1 1040.3,66.1 C1040.3,71.1 1038.3,76.1 1038.1,81.1 C1037.8,86.1 1037.8,91.1 1038.8,96.1 C1039.8,101.1 1042.5,106.4 1044.1,111.1 C1045.7,115.9 1047.5,120.7 1048.6,124.6 C1049.7,128.5 1050.5,132.8 1050.8,134.4 M1047.1,24.8 C1047.6,26.9 1049.3,33.2 1050.1,37.5 C1050.8,41.9 1051.6,46.5 1051.6,51.1 C1051.6,55.6 1050.7,60.1 1050.1,64.6 C1049.5,69.1 1047.8,73.3 1047.8,78.1 C1047.8,82.8 1049.8,88.1 1050.1,93.1 C1050.3,98.1 1049.3,103.6 1049.3,108.1 C1049.3,112.6 1049.8,115.7 1050.1,120.1 C1050.3,124.5 1050.7,132.0 1050.8,134.4 M1047.8,78.1 C1046.8,78.7 1043.5,79.8 1041.8,81.8 C1040.2,83.8 1038.7,88.7 1038.1,90.1" fill="none" stroke="#6e1013" stroke-width="2.10" stroke-linecap="round" stroke-linejoin="round"/>
<path d="M1026.1,35.3 C1025.3,35.4 1022.9,36.0 1021.6,36.0 C1020.2,36.1 1018.4,35.8 1017.8,35.7 M1051.6,52.3 C1052.8,52.2 1056.8,51.2 1059.1,51.8 C1061.4,52.4 1063.4,54.4 1065.1,55.9 C1066.9,57.3 1068.9,59.6 1069.6,60.4 M1059.1,51.8 C1060.1,50.4 1063.1,45.5 1065.1,43.5 C1067.1,41.5 1070.1,40.4 1071.1,39.8 M1065.1,43.5 C1065.4,42.4 1066.7,39.0 1066.9,36.8 C1067.1,34.5 1066.4,31.2 1066.3,30.0 M1015.6,60.8 C1015.9,61.7 1017.6,63.4 1017.8,66.1 C1018.1,68.7 1015.9,74.1 1017.1,76.6 C1018.2,79.1 1021.6,79.8 1024.6,81.1 C1027.6,82.3 1032.6,82.8 1035.1,84.1 C1037.6,85.3 1038.8,87.8 1039.6,88.6 M1017.8,66.1 C1018.2,65.7 1019.9,64.2 1020.4,63.8 M1017.1,76.6 C1017.2,78.8 1016.8,86.6 1017.8,90.1 C1018.8,93.6 1022.7,95.9 1023.1,97.6 C1023.4,99.3 1020.8,99.7 1019.8,100.3 C1018.8,100.9 1017.5,101.2 1017.1,101.4 M1023.1,97.6 C1025.1,97.8 1032.3,98.1 1035.1,99.1 C1037.8,100.1 1038.8,102.9 1039.6,103.6 M1050.1,79.6 C1051.1,80.3 1053.8,83.2 1056.1,84.1 C1058.3,85.0 1062.2,85.3 1063.6,84.8 C1065.0,84.3 1064.5,81.7 1064.7,81.1 M1063.6,84.8 C1063.5,85.3 1063.0,87.0 1062.9,87.4 M1057.6,133.6 C1058.6,132.6 1061.9,129.9 1063.6,127.6 C1065.4,125.4 1067.1,122.4 1068.1,120.1 C1069.1,117.9 1069.4,115.1 1069.6,114.1 M1063.6,127.6 C1063.3,126.4 1062.3,122.6 1061.8,120.1 C1061.3,117.7 1060.8,114.1 1060.6,112.9" fill="none" stroke="#6e1013" stroke-width="1.65" stroke-linecap="round" stroke-linejoin="round"/>
<path d="M1022.3,26.3 C1022.7,27.0 1024.2,29.3 1024.9,30.8 C1025.5,32.3 1025.1,34.2 1026.1,35.3 C1027.0,36.4 1029.2,36.6 1030.6,37.2 C1031.9,37.9 1033.1,36.7 1034.3,39.0 C1035.6,41.3 1037.1,46.5 1038.1,51.1 C1039.1,55.6 1040.3,61.1 1040.3,66.1 C1040.3,71.1 1038.3,76.1 1038.1,81.1 C1037.8,86.1 1037.8,91.1 1038.8,96.1 C1039.8,101.1 1042.5,106.4 1044.1,111.1 C1045.7,115.9 1047.5,120.7 1048.6,124.6 C1049.7,128.5 1050.5,132.8 1050.8,134.4 M1047.1,24.8 C1047.6,26.9 1049.3,33.2 1050.1,37.5 C1050.8,41.9 1051.6,46.5 1051.6,51.1 C1051.6,55.6 1050.7,60.1 1050.1,64.6 C1049.5,69.1 1047.8,73.3 1047.8,78.1 C1047.8,82.8 1049.8,88.1 1050.1,93.1 C1050.3,98.1 1049.3,103.6 1049.3,108.1 C1049.3,112.6 1049.8,115.7 1050.1,120.1 C1050.3,124.5 1050.7,132.0 1050.8,134.4 M1047.8,78.1 C1046.8,78.7 1043.5,79.8 1041.8,81.8 C1040.2,83.8 1038.7,88.7 1038.1,90.1" fill="none" stroke="#d8282c" stroke-width="1.30" stroke-linecap="round" stroke-linejoin="round"/>
<path d="M1026.1,35.3 C1025.3,35.4 1022.9,36.0 1021.6,36.0 C1020.2,36.1 1018.4,35.8 1017.8,35.7 M1051.6,52.3 C1052.8,52.2 1056.8,51.2 1059.1,51.8 C1061.4,52.4 1063.4,54.4 1065.1,55.9 C1066.9,57.3 1068.9,59.6 1069.6,60.4 M1059.1,51.8 C1060.1,50.4 1063.1,45.5 1065.1,43.5 C1067.1,41.5 1070.1,40.4 1071.1,39.8 M1065.1,43.5 C1065.4,42.4 1066.7,39.0 1066.9,36.8 C1067.1,34.5 1066.4,31.2 1066.3,30.0 M1015.6,60.8 C1015.9,61.7 1017.6,63.4 1017.8,66.1 C1018.1,68.7 1015.9,74.1 1017.1,76.6 C1018.2,79.1 1021.6,79.8 1024.6,81.1 C1027.6,82.3 1032.6,82.8 1035.1,84.1 C1037.6,85.3 1038.8,87.8 1039.6,88.6 M1017.8,66.1 C1018.2,65.7 1019.9,64.2 1020.4,63.8 M1017.1,76.6 C1017.2,78.8 1016.8,86.6 1017.8,90.1 C1018.8,93.6 1022.7,95.9 1023.1,97.6 C1023.4,99.3 1020.8,99.7 1019.8,100.3 C1018.8,100.9 1017.5,101.2 1017.1,101.4 M1023.1,97.6 C1025.1,97.8 1032.3,98.1 1035.1,99.1 C1037.8,100.1 1038.8,102.9 1039.6,103.6 M1050.1,79.6 C1051.1,80.3 1053.8,83.2 1056.1,84.1 C1058.3,85.0 1062.2,85.3 1063.6,84.8 C1065.0,84.3 1064.5,81.7 1064.7,81.1 M1063.6,84.8 C1063.5,85.3 1063.0,87.0 1062.9,87.4 M1057.6,133.6 C1058.6,132.6 1061.9,129.9 1063.6,127.6 C1065.4,125.4 1067.1,122.4 1068.1,120.1 C1069.1,117.9 1069.4,115.1 1069.6,114.1 M1063.6,127.6 C1063.3,126.4 1062.3,122.6 1061.8,120.1 C1061.3,117.7 1060.8,114.1 1060.6,112.9" fill="none" stroke="#d8282c" stroke-width="0.85" stroke-linecap="round" stroke-linejoin="round"/>
<path d="M264.45,876.29 L266.73,869.85 L269.02,863.63 L271.31,857.63 L273.61,851.84 L275.91,846.26 L278.22,840.91 L280.53,835.77 L282.85,830.85 L285.18,826.15 L287.51,821.66 L289.84,817.39 L292.18,813.34 L294.52,809.51 L296.87,805.90 L299.21,802.51 L301.56,799.33 L303.92,796.37 L306.27,793.64 L308.62,791.12 L310.98,788.82 L313.33,786.74 L315.66,784.86 L317.99,783.19 L320.31,781.74 L322.64,780.50 L324.96,779.47 L327.27,778.65 L329.59,778.04 L331.91,777.64 L334.22,777.44 L336.55,777.44 L338.88,777.65 L341.23,778.07 L343.59,778.69 L345.96,779.52 L348.35,780.56 L350.75,781.81 L353.17,783.28 L355.61,784.96 L358.06,786.86 L360.52,788.98 L363.00,791.31 L365.49,793.86 L367.99,796.62 L370.50,799.61 L373.02,802.81 L375.55,806.23 L378.09,809.86 L380.64,813.71 L383.19,817.79 L385.76,822.07 L388.33,826.58 L390.91,831.30 L393.50,836.24 L396.10,841.39 L398.70,846.76 L401.31,852.35 L403.93,858.16 L406.56,864.18 L409.19,870.42 L411.87,869.30 L409.22,863.04 L406.58,856.98 L403.95,851.14 L401.32,845.52 L398.70,840.11 L396.08,834.91 L393.47,829.93 L390.86,825.16 L388.26,820.61 L385.67,816.27 L383.07,812.14 L380.49,808.23 L377.90,804.53 L375.32,801.05 L372.75,797.77 L370.17,794.72 L367.60,791.87 L365.03,789.24 L362.46,786.82 L359.89,784.61 L357.32,782.62 L354.75,780.85 L352.18,779.29 L349.60,777.95 L347.02,776.82 L344.44,775.92 L341.85,775.24 L339.27,774.78 L336.68,774.55 L334.10,774.54 L331.53,774.76 L328.97,775.21 L326.42,775.88 L323.88,776.78 L321.36,777.89 L318.86,779.23 L316.37,780.78 L313.90,782.55 L311.44,784.53 L309.02,786.75 L306.61,789.18 L304.21,791.82 L301.83,794.67 L299.46,797.74 L297.10,801.01 L294.75,804.50 L292.41,808.20 L290.08,812.12 L287.76,816.24 L285.45,820.58 L283.14,825.13 L280.85,829.90 L278.56,834.87 L276.28,840.07 L274.01,845.47 L271.74,851.09 L269.48,856.92 L267.23,862.97 L264.99,869.23 L262.75,875.71 Z" fill="url(#ag4)"/>
<path d="M414.60,879.90 L403.40,869.28 L415.48,864.49 Z" fill="#111111"/>
<path d="M376.75,876.29 L379.03,869.85 L381.32,863.63 L383.61,857.63 L385.91,851.84 L388.22,846.26 L390.53,840.91 L392.84,835.77 L395.17,830.85 L397.50,826.15 L399.83,821.66 L402.17,817.40 L404.51,813.35 L406.86,809.51 L409.21,805.90 L411.57,802.51 L413.92,799.33 L416.28,796.37 L418.65,793.64 L421.01,791.12 L423.37,788.82 L425.73,786.74 L428.07,784.86 L430.41,783.19 L432.75,781.74 L435.08,780.50 L437.42,779.47 L439.75,778.65 L442.07,778.04 L444.40,777.64 L446.74,777.44 L449.08,777.44 L451.43,777.65 L453.79,778.07 L456.16,778.69 L458.55,779.52 L460.96,780.56 L463.38,781.82 L465.82,783.28 L468.27,784.97 L470.74,786.86 L473.22,788.98 L475.72,791.31 L478.23,793.86 L480.75,796.63 L483.28,799.61 L485.82,802.81 L488.38,806.23 L490.94,809.87 L493.51,813.72 L496.09,817.79 L498.68,822.08 L501.28,826.58 L503.88,831.30 L506.50,836.24 L509.12,841.40 L511.75,846.77 L514.39,852.36 L517.03,858.16 L519.69,864.18 L522.35,870.42 L525.02,869.30 L522.35,863.03 L519.68,856.98 L517.02,851.14 L514.36,845.51 L511.71,840.10 L509.07,834.91 L506.43,829.93 L503.80,825.16 L501.18,820.60 L498.56,816.27 L495.94,812.14 L493.33,808.23 L490.72,804.53 L488.12,801.04 L485.52,797.77 L482.93,794.71 L480.34,791.87 L477.75,789.23 L475.16,786.82 L472.57,784.61 L469.98,782.62 L467.39,780.85 L464.80,779.29 L462.20,777.94 L459.61,776.82 L457.01,775.92 L454.41,775.24 L451.81,774.78 L449.21,774.55 L446.62,774.54 L444.03,774.76 L441.46,775.21 L438.90,775.88 L436.35,776.77 L433.82,777.89 L431.30,779.23 L428.80,780.78 L426.32,782.55 L423.85,784.53 L421.42,786.75 L419.00,789.18 L416.59,791.82 L414.20,794.67 L411.82,797.74 L409.46,801.01 L407.10,804.50 L404.75,808.20 L402.42,812.12 L400.09,816.24 L397.77,820.58 L395.46,825.13 L393.16,829.90 L390.87,834.87 L388.59,840.07 L386.31,845.47 L384.04,851.09 L381.78,856.92 L379.53,862.97 L377.29,869.23 L375.05,875.71 Z" fill="url(#ag5)"/>
<path d="M527.80,879.90 L516.56,869.32 L528.63,864.49 Z" fill="#c4161c"/>
<path d="M496.85,876.29 L499.13,869.85 L501.42,863.63 L503.71,857.63 L506.01,851.84 L508.31,846.26 L510.62,840.91 L512.93,835.77 L515.25,830.85 L517.57,826.15 L519.90,821.66 L522.23,817.39 L524.57,813.34 L526.91,809.51 L529.25,805.90 L531.60,802.51 L533.95,799.33 L536.30,796.37 L538.65,793.64 L541.01,791.12 L543.36,788.82 L545.70,786.74 L548.03,784.86 L550.36,783.19 L552.68,781.74 L555.00,780.50 L557.32,779.47 L559.64,778.65 L561.95,778.04 L564.26,777.64 L566.58,777.44 L568.90,777.44 L571.23,777.65 L573.57,778.07 L575.92,778.69 L578.29,779.52 L580.68,780.56 L583.08,781.81 L585.49,783.28 L587.93,784.96 L590.37,786.86 L592.83,788.97 L595.30,791.31 L597.79,793.85 L600.28,796.62 L602.79,799.60 L605.30,802.81 L607.83,806.22 L610.36,809.86 L612.91,813.71 L615.46,817.78 L618.02,822.07 L620.59,826.58 L623.16,831.30 L625.75,836.24 L628.34,841.39 L630.94,846.76 L633.54,852.35 L636.15,858.16 L638.77,864.18 L641.40,870.42 L644.08,869.30 L641.44,863.04 L638.80,856.98 L636.18,851.14 L633.56,845.52 L630.94,840.11 L628.33,834.91 L625.72,829.93 L623.12,825.16 L620.52,820.61 L617.93,816.27 L615.35,812.15 L612.76,808.23 L610.19,804.53 L607.61,801.05 L605.04,797.78 L602.47,794.72 L599.90,791.87 L597.34,789.24 L594.77,786.82 L592.21,784.62 L589.64,782.62 L587.07,780.85 L584.50,779.29 L581.93,777.95 L579.36,776.82 L576.78,775.92 L574.19,775.24 L571.61,774.78 L569.03,774.55 L566.46,774.54 L563.89,774.76 L561.33,775.21 L558.78,775.88 L556.25,776.78 L553.73,777.89 L551.23,779.23 L548.75,780.78 L546.28,782.55 L543.82,784.53 L541.40,786.75 L538.99,789.18 L536.60,791.82 L534.22,794.67 L531.85,797.74 L529.49,801.01 L527.14,804.50 L524.80,808.20 L522.47,812.12 L520.15,816.24 L517.84,820.58 L515.54,825.13 L513.25,829.90 L510.96,834.87 L508.68,840.07 L506.41,845.47 L504.14,851.09 L501.88,856.92 L499.63,862.97 L497.39,869.23 L495.15,875.71 Z" fill="url(#ag6)"/>
<path d="M646.80,879.90 L635.61,869.27 L647.70,864.49 Z" fill="#49a83a"/>
<text x="295.88" y="908.0" font-size="14.5" textLength="71.62" lengthAdjust="spacingAndGlyphs" fill="#111" stroke="#111" stroke-width="0.35" >Monocytes</text>
<text x="295.89" y="926.4" font-size="14.5" textLength="87.01" lengthAdjust="spacingAndGlyphs" fill="#111" stroke="#111" stroke-width="0.35" >Macrophages</text>
<text x="443.14" y="909.5" font-size="14.5" textLength="19.06" lengthAdjust="spacingAndGlyphs" fill="#111" stroke="#111" stroke-width="0.35" >M1</text>
<text x="564.42" y="905.5" font-size="14.5" textLength="20.91" lengthAdjust="spacingAndGlyphs" fill="#111" stroke="#111" stroke-width="0.35" >M2</text>
<path d="M397,994.1 H572" stroke="#1a1a1a" stroke-width="2.4" fill="none"/>
<path d="M583.8,994.1 L568.5,987.2 L568.5,1001 Z" fill="#1a1a1a"/>
<text x="395.99" y="1024.0" font-size="16.5" textLength="193.02" lengthAdjust="spacingAndGlyphs" fill="#111" stroke="#111" stroke-width="0.35" >proinflammatory stimuli</text>
<text x="272.17" y="1053.7" font-size="17" textLength="47.43" lengthAdjust="spacingAndGlyphs" fill="#111" stroke="#111" stroke-width="0.35" >F4/80</text>
<text x="321.10" y="1048.7" font-size="10.5" textLength="5.62" lengthAdjust="spacingAndGlyphs" fill="#111" stroke="#111" stroke-width="0.5" >+</text>
<text x="326.48" y="1053.7" font-size="17" textLength="51.82" lengthAdjust="spacingAndGlyphs" fill="#111" stroke="#111" stroke-width="0.35" >Mac-2</text>
<text x="380.30" y="1046.7" font-size="9" textLength="3.63" lengthAdjust="spacingAndGlyphs" fill="#111" stroke="#111" stroke-width="0.2" >-</text>
<text x="567.67" y="1061.8" font-size="17" textLength="47.43" lengthAdjust="spacingAndGlyphs" fill="#111" stroke="#111" stroke-width="0.35" >F4/80</text>
<text x="616.60" y="1056.8" font-size="10.5" textLength="5.62" lengthAdjust="spacingAndGlyphs" fill="#111" stroke="#111" stroke-width="0.5" >+</text>
<text x="621.98" y="1061.8" font-size="17" textLength="51.82" lengthAdjust="spacingAndGlyphs" fill="#111" stroke="#111" stroke-width="0.35" >Mac-2</text>
<text x="676.00" y="1055.8" font-size="8.8" textLength="17.00" lengthAdjust="spacingAndGlyphs" fill="#111" stroke="#111" stroke-width="0.2" >dim</text>
</svg>
</body></html>
